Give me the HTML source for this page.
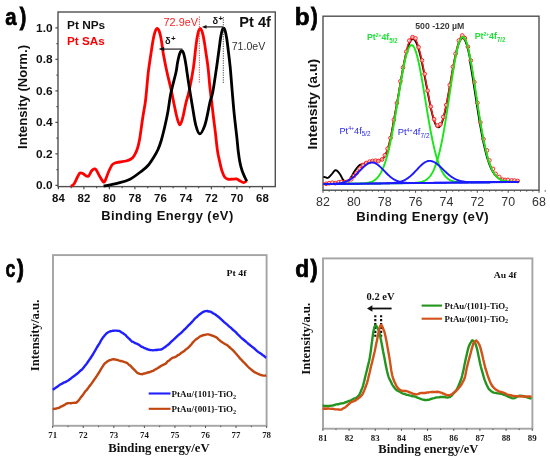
<!DOCTYPE html>
<html><head><meta charset="utf-8"><style>
html,body{margin:0;padding:0;background:#fff;width:550px;height:460px;overflow:hidden;}
svg{display:block;position:absolute;left:0;top:0;will-change:transform;}
</style></head><body>
<svg width="550" height="460" viewBox="0 0 550 460">
<rect x="58.0" y="12.0" width="217.3" height="174.6" fill="none" stroke="#505050" stroke-width="1.4"/>
<path d="M58.0,185.30h-2.6 M58.0,169.55h-1.6 M58.0,153.80h-2.6 M58.0,138.05h-1.6 M58.0,122.30h-2.6 M58.0,106.55h-1.6 M58.0,90.80h-2.6 M58.0,75.05h-1.6 M58.0,59.30h-2.6 M58.0,43.55h-1.6 M58.0,27.80h-2.6 M262.40,186.6v2.6 M249.65,186.6v1.6 M236.90,186.6v2.6 M224.15,186.6v1.6 M211.40,186.6v2.6 M198.65,186.6v1.6 M185.90,186.6v2.6 M173.15,186.6v1.6 M160.40,186.6v2.6 M147.65,186.6v1.6 M134.90,186.6v2.6 M122.15,186.6v1.6 M109.40,186.6v2.6 M96.65,186.6v1.6 M83.90,186.6v2.6 M71.15,186.6v1.6 M58.40,186.6v2.6" stroke="#505050" stroke-width="1.2" fill="none"/>
<text x="36.1" y="189.30" font-family="Liberation Sans, sans-serif" font-weight="bold" font-size="10.7" textLength="16.5" lengthAdjust="spacingAndGlyphs" fill="#111">0.0</text>
<text x="36.1" y="157.80" font-family="Liberation Sans, sans-serif" font-weight="bold" font-size="10.7" textLength="16.5" lengthAdjust="spacingAndGlyphs" fill="#111">0.2</text>
<text x="36.1" y="126.30" font-family="Liberation Sans, sans-serif" font-weight="bold" font-size="10.7" textLength="16.5" lengthAdjust="spacingAndGlyphs" fill="#111">0.4</text>
<text x="36.1" y="94.80" font-family="Liberation Sans, sans-serif" font-weight="bold" font-size="10.7" textLength="16.5" lengthAdjust="spacingAndGlyphs" fill="#111">0.6</text>
<text x="36.1" y="63.30" font-family="Liberation Sans, sans-serif" font-weight="bold" font-size="10.7" textLength="16.5" lengthAdjust="spacingAndGlyphs" fill="#111">0.8</text>
<text x="36.1" y="31.80" font-family="Liberation Sans, sans-serif" font-weight="bold" font-size="10.7" textLength="16.5" lengthAdjust="spacingAndGlyphs" fill="#111">1.0</text>
<text x="262.40" y="201.6" text-anchor="middle" font-family="Liberation Sans, sans-serif" font-weight="bold" font-size="11.4" fill="#111">68</text>
<text x="236.90" y="201.6" text-anchor="middle" font-family="Liberation Sans, sans-serif" font-weight="bold" font-size="11.4" fill="#111">70</text>
<text x="211.40" y="201.6" text-anchor="middle" font-family="Liberation Sans, sans-serif" font-weight="bold" font-size="11.4" fill="#111">72</text>
<text x="185.90" y="201.6" text-anchor="middle" font-family="Liberation Sans, sans-serif" font-weight="bold" font-size="11.4" fill="#111">74</text>
<text x="160.40" y="201.6" text-anchor="middle" font-family="Liberation Sans, sans-serif" font-weight="bold" font-size="11.4" fill="#111">76</text>
<text x="134.90" y="201.6" text-anchor="middle" font-family="Liberation Sans, sans-serif" font-weight="bold" font-size="11.4" fill="#111">78</text>
<text x="109.40" y="201.6" text-anchor="middle" font-family="Liberation Sans, sans-serif" font-weight="bold" font-size="11.4" fill="#111">80</text>
<text x="83.90" y="201.6" text-anchor="middle" font-family="Liberation Sans, sans-serif" font-weight="bold" font-size="11.4" fill="#111">82</text>
<text x="58.40" y="201.6" text-anchor="middle" font-family="Liberation Sans, sans-serif" font-weight="bold" font-size="11.4" fill="#111">84</text>
<text x="101.2" y="219.6" font-family="Liberation Sans, sans-serif" font-weight="bold" font-size="12.9" textLength="132" lengthAdjust="spacing" fill="#111">Binding Energy (eV)</text>
<text transform="translate(26.8,149) rotate(-90)" x="0" y="0" font-family="Liberation Sans, sans-serif" font-weight="bold" font-size="12.4" textLength="104" lengthAdjust="spacingAndGlyphs" fill="#111">Intensity (Norm.)</text>
<text transform="translate(5.3,24.5) scale(0.865,1)" font-family="Liberation Sans, sans-serif" font-weight="bold" font-size="23.5" fill="#000" stroke="#000" stroke-width="0.7">a</text><text transform="translate(19.8,24.7) scale(0.8,1)" font-family="Liberation Sans, sans-serif" font-weight="bold" font-size="24.5" fill="#000" stroke="#000" stroke-width="0.9">)</text>
<text x="67" y="28.6" font-family="Liberation Sans, sans-serif" font-weight="bold" font-size="11.2" textLength="38.2" lengthAdjust="spacingAndGlyphs" fill="#111">Pt NPs</text>
<text x="67" y="45" font-family="Liberation Sans, sans-serif" font-weight="bold" font-size="11.2" textLength="37.8" lengthAdjust="spacingAndGlyphs" fill="#ff0000">Pt SAs</text>
<text x="239.3" y="26.9" font-family="Liberation Sans, sans-serif" font-weight="bold" font-size="14.6" fill="#111">Pt 4f</text>
<path d="M71.00,186.40 C71.50,186.00 72.92,185.57 74.00,184.00 C75.08,182.43 76.50,178.83 77.50,177.00 C78.50,175.17 79.08,173.57 80.00,173.00 C80.92,172.43 81.67,173.03 83.00,173.60 C84.33,174.17 86.58,176.83 88.00,176.40 C89.42,175.97 90.50,172.23 91.50,171.00 C92.50,169.77 93.25,169.23 94.00,169.00 C94.75,168.77 95.08,168.43 96.00,169.60 C96.92,170.77 98.33,174.00 99.50,176.00 C100.67,178.00 102.08,180.77 103.00,181.60 C103.92,182.43 104.08,182.60 105.00,181.00 C105.92,179.40 107.33,174.67 108.50,172.00 C109.67,169.33 110.92,166.50 112.00,165.00 C113.08,163.50 113.67,163.50 115.00,163.00 C116.33,162.50 118.17,162.33 120.00,162.00 C121.83,161.67 124.17,161.50 126.00,161.00 C127.83,160.50 129.67,159.83 131.00,159.00 C132.33,158.17 132.97,157.62 134.00,156.00 C135.03,154.38 136.28,151.97 137.20,149.30 C138.12,146.63 138.87,143.22 139.50,140.00 C140.13,136.78 140.42,134.00 141.00,130.00 C141.58,126.00 142.23,121.00 143.00,116.00 C143.77,111.00 144.72,107.30 145.60,100.00 C146.48,92.70 147.43,79.73 148.30,72.20 C149.17,64.67 150.05,59.89 150.80,54.80 C151.55,49.71 152.22,45.08 152.80,41.69 C153.38,38.30 153.80,36.41 154.30,34.45 C154.80,32.49 155.30,30.94 155.80,29.94 C156.30,28.93 156.80,28.37 157.30,28.40 C157.80,28.43 158.30,28.98 158.80,30.09 C159.30,31.20 159.80,32.90 160.30,35.05 C160.80,37.19 161.27,39.67 161.80,42.96 C162.33,46.25 162.63,49.93 163.50,54.80 C164.37,59.67 165.72,66.33 167.00,72.20 C168.28,78.07 169.95,84.32 171.20,90.00 C172.45,95.68 173.50,101.58 174.50,106.30 C175.50,111.02 176.30,115.20 177.20,118.30 C178.10,121.40 179.00,124.90 179.90,124.90 C180.80,124.90 181.60,121.95 182.60,118.30 C183.60,114.65 184.82,107.55 185.90,103.00 C186.98,98.45 187.83,96.97 189.10,91.00 C190.37,85.03 192.42,74.27 193.50,67.20 C194.58,60.13 195.00,53.49 195.60,48.59 C196.20,43.68 196.60,40.72 197.10,37.77 C197.60,34.81 198.10,32.41 198.60,30.87 C199.10,29.33 199.60,28.60 200.10,28.50 C200.60,28.40 201.10,29.10 201.60,30.26 C202.10,31.41 202.60,33.18 203.10,35.41 C203.60,37.64 204.20,41.22 204.60,43.62 C205.00,46.02 204.93,45.87 205.50,49.80 C206.07,53.73 207.25,60.83 208.00,67.20 C208.75,73.57 209.38,82.20 210.00,88.00 C210.62,93.80 211.12,97.08 211.70,102.00 C212.28,106.92 212.90,112.52 213.50,117.50 C214.10,122.48 214.63,126.33 215.30,131.90 C215.97,137.47 216.77,145.93 217.50,150.90 C218.23,155.87 218.98,158.45 219.70,161.70 C220.42,164.95 220.98,167.85 221.80,170.40 C222.62,172.95 223.60,175.55 224.60,177.00 C225.60,178.45 226.57,178.73 227.80,179.10 C229.03,179.47 230.55,179.23 232.00,179.20 C233.45,179.17 235.20,178.63 236.50,178.90 C237.80,179.17 238.62,180.18 239.80,180.80 C240.98,181.42 242.43,182.60 243.60,182.60 C244.77,182.60 246.27,181.10 246.80,180.80" stroke="#ff0000" stroke-width="2.8" fill="none" stroke-linejoin="round"/>
<path d="M103.60,186.20 C106.00,185.70 113.60,184.37 118.00,183.20 C122.40,182.03 126.00,181.27 130.00,179.20 C134.00,177.13 139.00,173.08 142.00,170.80 C145.00,168.52 146.02,167.80 148.00,165.50 C149.98,163.20 152.23,159.67 153.90,157.00 C155.57,154.33 156.75,152.33 158.00,149.50 C159.25,146.67 160.20,144.12 161.40,140.00 C162.60,135.88 164.12,129.52 165.20,124.80 C166.28,120.08 166.95,117.00 167.90,111.70 C168.85,106.40 169.55,99.58 170.90,93.00 C172.25,86.42 174.93,77.02 176.00,72.20 C177.07,67.38 176.83,66.65 177.30,64.08 C177.77,61.51 178.30,58.75 178.80,56.77 C179.30,54.78 179.80,53.20 180.30,52.17 C180.80,51.14 181.30,50.54 181.80,50.60 C182.30,50.66 182.80,51.28 183.30,52.54 C183.80,53.81 184.30,55.78 184.80,58.20 C185.30,60.63 185.93,64.78 186.30,67.11 C186.67,69.44 186.43,68.38 187.00,72.20 C187.57,76.02 188.80,84.32 189.70,90.00 C190.60,95.68 191.40,100.50 192.40,106.30 C193.40,112.10 194.47,120.20 195.70,124.80 C196.93,129.40 198.32,133.72 199.80,133.90 C201.28,134.08 203.30,129.23 204.60,125.90 C205.90,122.57 206.70,117.88 207.60,113.90 C208.50,109.92 209.13,105.65 210.00,102.00 C210.87,98.35 211.70,97.80 212.80,92.00 C213.90,86.20 215.55,74.37 216.60,67.20 C217.65,60.03 218.43,53.86 219.10,48.96 C219.77,44.05 220.10,40.84 220.60,37.79 C221.10,34.74 221.60,32.25 222.10,30.65 C222.60,29.06 223.10,28.20 223.60,28.20 C224.10,28.20 224.60,29.06 225.10,30.65 C225.60,32.25 226.10,34.74 226.60,37.79 C227.10,40.84 227.50,44.05 228.10,48.96 C228.70,53.86 229.53,60.36 230.20,67.20 C230.87,74.04 231.43,82.22 232.10,90.00 C232.77,97.78 233.40,105.93 234.20,113.90 C235.00,121.87 236.23,131.63 236.90,137.80 C237.57,143.97 237.72,146.92 238.20,150.90 C238.68,154.88 239.17,158.45 239.80,161.70 C240.43,164.95 241.18,167.85 242.00,170.40 C242.82,172.95 243.90,175.20 244.70,177.00 C245.50,178.80 246.45,180.50 246.80,181.20" stroke="#000" stroke-width="2.8" fill="none" stroke-linejoin="round"/>
<path d="M199.4,16.5V83.2" stroke="#ff2020" stroke-width="0.9" stroke-dasharray="1.2,1.2" fill="none"/>
<path d="M223.3,17V83" stroke="#333" stroke-width="0.9" stroke-dasharray="1.2,1.2" fill="none"/>
<path d="M182.4,49.1H160.5" stroke="#333" stroke-width="1.3"/><path d="M158.6,49.1l5.6,-2v4z" fill="#111"/>
<path d="M223,26.9H204.2" stroke="#333" stroke-width="1.3"/><path d="M201.9,26.9l4.6,-1.8v3.6z" fill="#111"/>
<text x="165.1" y="44.1" font-family="Liberation Sans, sans-serif" font-weight="bold" font-size="9.2" fill="#111">δ</text><text x="170.9" y="41.3" font-family="Liberation Sans, sans-serif" font-weight="bold" font-size="8" fill="#111">+</text>
<text x="212.4" y="23.9" font-family="Liberation Sans, sans-serif" font-weight="bold" font-size="9.2" fill="#111">δ</text><text x="218.4" y="20.6" font-family="Liberation Sans, sans-serif" font-weight="bold" font-size="7.6" fill="#111">+</text>
<text x="163.5" y="25.5" font-family="Liberation Sans, sans-serif" font-size="11" textLength="34.5" lengthAdjust="spacingAndGlyphs" fill="#ff2020">72.9eV</text>
<text x="231.7" y="50" font-family="Liberation Sans, sans-serif" font-size="11" textLength="33.6" lengthAdjust="spacingAndGlyphs" fill="#333">71.0eV</text>
<rect x="323.0" y="16.2" width="216.0" height="174.0" fill="none" stroke="#505050" stroke-width="1.4"/>
<path d="M323.00,190.2v2.6 M329.17,190.2v1.5 M335.34,190.2v1.5 M341.52,190.2v1.5 M347.69,190.2v1.5 M353.86,190.2v2.6 M360.03,190.2v1.5 M366.20,190.2v1.5 M372.38,190.2v1.5 M378.55,190.2v1.5 M384.72,190.2v2.6 M390.89,190.2v1.5 M397.06,190.2v1.5 M403.24,190.2v1.5 M409.41,190.2v1.5 M415.58,190.2v2.6 M421.75,190.2v1.5 M427.92,190.2v1.5 M434.10,190.2v1.5 M440.27,190.2v1.5 M446.44,190.2v2.6 M452.61,190.2v1.5 M458.78,190.2v1.5 M464.96,190.2v1.5 M471.13,190.2v1.5 M477.30,190.2v2.6 M483.47,190.2v1.5 M489.64,190.2v1.5 M495.82,190.2v1.5 M501.99,190.2v1.5 M508.16,190.2v2.6 M514.33,190.2v1.5 M520.50,190.2v1.5 M526.68,190.2v1.5 M532.85,190.2v1.5 M539.02,190.2v2.6 M545.19,190.2v1.5 M551.36,190.2v1.5 M557.54,190.2v1.5 M563.71,190.2v1.5 M569.88,190.2v2.6 M576.05,190.2v1.5 M582.22,190.2v1.5 M588.40,190.2v1.5 M594.57,190.2v1.5 M600.74,190.2v2.6 M606.91,190.2v1.5 M613.08,190.2v1.5 M619.26,190.2v1.5 M625.43,190.2v1.5 M631.60,190.2v2.6 M637.77,190.2v1.5 M643.94,190.2v1.5 M650.12,190.2v1.5 M656.29,190.2v1.5 M662.46,190.2v2.6 M668.63,190.2v1.5 M674.80,190.2v1.5 M680.98,190.2v1.5 M687.15,190.2v1.5 M693.32,190.2v2.6 M699.49,190.2v1.5 M705.66,190.2v1.5 M711.84,190.2v1.5 M718.01,190.2v1.5 M724.18,190.2v2.6 M730.35,190.2v1.5 M736.52,190.2v1.5 M742.70,190.2v1.5 M748.87,190.2v1.5 M755.04,190.2v2.6" stroke="#505050" stroke-width="1" fill="none"/>
<text x="539.02" y="205.8" text-anchor="middle" font-family="Liberation Sans, sans-serif" font-size="12.4" fill="#333">68</text>
<text x="508.16" y="205.8" text-anchor="middle" font-family="Liberation Sans, sans-serif" font-size="12.4" fill="#333">70</text>
<text x="477.30" y="205.8" text-anchor="middle" font-family="Liberation Sans, sans-serif" font-size="12.4" fill="#333">72</text>
<text x="446.44" y="205.8" text-anchor="middle" font-family="Liberation Sans, sans-serif" font-size="12.4" fill="#333">74</text>
<text x="415.58" y="205.8" text-anchor="middle" font-family="Liberation Sans, sans-serif" font-size="12.4" fill="#333">76</text>
<text x="384.72" y="205.8" text-anchor="middle" font-family="Liberation Sans, sans-serif" font-size="12.4" fill="#333">78</text>
<text x="353.86" y="205.8" text-anchor="middle" font-family="Liberation Sans, sans-serif" font-size="12.4" fill="#333">80</text>
<text x="323.00" y="205.8" text-anchor="middle" font-family="Liberation Sans, sans-serif" font-size="12.4" fill="#333">82</text>
<text x="356.2" y="220.7" font-family="Liberation Sans, sans-serif" font-weight="bold" font-size="13.1" textLength="132.5" lengthAdjust="spacing" fill="#111">Binding Energy (eV)</text>
<text transform="translate(317.2,149.6) rotate(-90)" x="0" y="0" font-family="Liberation Sans, sans-serif" font-weight="bold" font-size="12.6" textLength="90.7" lengthAdjust="spacingAndGlyphs" fill="#111">Intensity (a.u)</text>
<text transform="translate(294.8,25.1)" font-family="Liberation Sans, sans-serif" font-weight="bold" font-size="24.3" fill="#000" stroke="#000" stroke-width="0.7">b</text><text transform="translate(310.9,24.8) scale(0.82,1)" font-family="Liberation Sans, sans-serif" font-weight="bold" font-size="24.5" fill="#000" stroke="#000" stroke-width="0.9">)</text>
<text x="415.2" y="29.1" font-family="Liberation Sans, sans-serif" font-size="9.4" font-weight="bold" textLength="49.2" lengthAdjust="spacingAndGlyphs" fill="#3a3a3a">500 -120 µM</text>
<path d="M323.40,176.70 L323.62,176.77 L323.93,176.86 L324.29,176.97 L324.69,177.09 L325.10,177.20 L325.50,177.30 L325.88,177.43 L326.27,177.61 L326.66,177.79 L327.08,177.92 L327.52,177.94 L328.00,177.80 L328.52,177.48 L329.07,177.02 L329.66,176.45 L330.26,175.81 L330.88,175.15 L331.50,174.50 L332.14,173.75 L332.80,172.86 L333.47,171.94 L334.15,171.11 L334.83,170.49 L335.50,170.20 L336.17,170.27 L336.83,170.60 L337.49,171.14 L338.16,171.84 L338.83,172.65 L339.50,173.50 L340.19,174.52 L340.90,175.78 L341.62,177.14 L342.32,178.47 L342.98,179.63 L343.60,180.50 L344.16,181.05 L344.67,181.40 L345.15,181.58 L345.61,181.64 L346.05,181.63 L346.50,181.60 L346.94,181.54 L347.36,181.40 L347.77,181.20 L348.18,180.93 L348.59,180.60 L349.00,180.20 L349.41,179.74 L349.80,179.22 L350.19,178.64 L350.59,177.99 L351.03,177.28 L351.50,176.50 L352.02,175.62 L352.56,174.64 L353.13,173.59 L353.73,172.53 L354.35,171.48 L355.00,170.50 L355.69,169.54 L356.44,168.56 L357.21,167.59 L357.98,166.70 L358.72,165.92 L359.40,165.30 L360.01,164.88 L360.58,164.63 L361.12,164.49 L361.64,164.41 L362.16,164.33 L362.70,164.20 L363.26,164.02 L363.83,163.84 L364.40,163.67 L364.96,163.50 L365.50,163.34 L366.00,163.20 L366.49,163.07 L366.99,162.95 L367.46,162.84 L367.88,162.74 L368.24,162.66 L368.50,162.60 L369.50,161.96 L370.00,161.82 L370.50,161.69 L371.00,161.58 L371.50,161.48 L372.00,161.39 L372.50,161.31 L373.00,161.24 L373.50,161.18 L374.00,161.13 L374.50,161.10 L375.00,161.08 L375.50,161.06 L376.00,161.03 L376.50,161.00 L377.00,160.94 L377.50,160.88 L378.00,160.83 L378.50,160.77 L379.00,160.69 L379.50,160.59 L380.00,160.45 L380.50,160.25 L381.00,160.02 L381.50,159.75 L382.00,159.44 L382.50,159.05 L383.00,158.57 L383.50,157.99 L384.00,157.30 L384.50,156.53 L385.00,155.67 L385.50,154.71 L386.00,153.65 L386.50,152.47 L387.00,151.17 L387.50,149.76 L388.00,148.25 L388.50,146.61 L389.00,144.82 L389.50,142.88 L390.00,140.81 L390.50,138.59 L391.00,136.20 L391.50,133.64 L392.00,130.97 L392.50,128.19 L393.00,125.35 L393.50,122.53 L394.00,119.76 L394.50,117.05 L395.00,114.38 L395.50,111.73 L396.00,109.04 L396.50,106.31 L397.00,103.53 L397.50,100.68 L398.00,97.77 L398.50,94.82 L399.00,91.86 L399.50,88.90 L400.00,85.94 L400.50,83.00 L401.00,80.09 L401.50,77.20 L402.00,74.36 L402.50,71.58 L403.00,68.85 L403.50,66.20 L404.00,63.62 L404.50,61.14 L405.00,58.75 L405.50,56.47 L406.00,54.30 L406.50,52.25 L407.00,50.33 L407.50,48.54 L408.00,46.90 L408.50,45.40 L409.00,44.05 L409.50,42.85 L410.00,41.81 L410.50,40.93 L411.00,40.21 L411.50,39.66 L412.00,39.27 L412.50,39.04 L413.00,38.98 L413.50,39.09 L414.00,39.36 L414.50,39.79 L415.00,40.38 L415.50,41.12 L416.00,42.02 L416.50,43.06 L417.00,44.25 L417.50,45.58 L418.00,47.04 L418.50,48.63 L419.00,50.35 L419.50,52.18 L420.00,54.12 L420.50,56.16 L421.00,58.30 L421.50,60.52 L422.00,62.83 L422.50,65.21 L423.00,67.66 L423.50,70.17 L424.00,72.72 L424.50,75.32 L425.00,77.95 L425.50,80.60 L426.00,83.27 L426.50,85.94 L427.00,88.62 L427.50,91.28 L428.00,93.93 L428.50,96.54 L429.00,99.11 L429.50,101.64 L430.00,104.10 L430.50,106.49 L431.00,108.79 L431.50,111.01 L432.00,113.11 L432.50,115.11 L433.00,116.98 L433.50,118.72 L434.00,120.32 L434.50,121.78 L435.00,123.07 L435.50,124.20 L436.00,125.16 L436.50,125.95 L437.00,126.55 L437.50,126.97 L438.00,127.20 L438.50,127.24 L439.00,127.09 L439.50,126.75 L440.00,126.23 L440.50,125.52 L441.00,124.62 L441.50,123.55 L442.00,122.30 L442.50,120.89 L443.00,119.31 L443.50,117.59 L444.00,115.71 L444.50,113.71 L445.00,111.57 L445.50,109.32 L446.00,106.95 L446.50,104.49 L447.00,101.94 L447.50,99.32 L448.00,96.63 L448.50,93.88 L449.00,91.09 L449.50,88.26 L450.00,85.41 L450.50,82.55 L451.00,79.69 L451.50,76.84 L452.00,74.01 L452.50,71.22 L453.00,68.46 L453.50,65.77 L454.00,63.14 L454.50,60.59 L455.00,58.13 L455.50,55.76 L456.00,53.51 L456.50,51.37 L457.00,49.37 L457.50,47.50 L458.00,45.78 L458.50,44.21 L459.00,42.80 L459.50,41.56 L460.00,40.50 L460.50,39.62 L461.00,38.93 L461.50,38.42 L462.00,38.11 L462.50,37.99 L463.00,38.07 L463.50,38.35 L464.00,38.82 L464.50,39.49 L465.00,40.35 L465.50,41.41 L466.00,42.64 L466.50,44.07 L467.00,45.66 L467.50,47.43 L468.00,49.36 L468.50,51.45 L469.00,53.69 L469.50,56.07 L470.00,58.57 L469.90,61.20 L470.40,63.94 L470.90,66.78 L471.40,69.71 L471.90,72.72 L472.40,75.81 L472.90,78.95 L473.40,82.14 L473.90,85.36 L474.40,88.62 L474.90,91.89 L475.40,95.18 L475.90,98.46 L476.40,101.72 L476.90,104.97 L477.40,108.20 L477.90,111.38 L478.40,114.53 L478.90,117.62 L479.40,120.66 L479.90,123.63 L480.40,126.54 L480.90,129.37 L481.40,132.13 L481.90,134.81 L482.40,137.40 L482.90,139.91 L483.40,142.33 L483.90,144.66 L484.40,146.90 L484.90,149.05 L485.40,151.10 L485.90,153.07 L486.40,154.94 L486.90,156.73 L487.40,158.42 L487.90,160.03 L488.40,161.55 L488.90,162.99 L489.40,164.34 L489.90,165.62 L490.40,166.82 L490.90,167.94 L491.40,169.00 L491.90,169.98 L492.40,170.90 L492.90,171.76 L493.40,172.55 L493.90,173.29 L494.40,173.98 L494.90,174.61 L495.40,175.20 L495.90,175.74 L496.40,176.24 L496.90,176.69 L497.40,177.11 L497.90,177.49 L498.40,177.84 L498.90,178.16 L499.40,178.45 L499.90,178.72 L500.40,178.96 L500.90,179.17 L501.40,179.37 L501.90,179.55 L502.40,179.70 L502.90,179.85 L503.40,179.97 L503.90,180.09 L504.40,180.19 L504.90,180.28 L505.40,180.36 L505.90,180.43" stroke="#000" stroke-width="1.9" fill="none" stroke-linejoin="round"/>
<path d="M323.50,183.30 L324.00,183.29 L324.50,183.29 L325.00,183.28 L325.50,183.28 L326.00,183.27 L326.50,183.27 L327.00,183.26 L327.50,183.26 L328.00,183.25 L328.50,183.24 L329.00,183.23 L329.50,183.22 L330.00,183.20 L330.50,183.18 L331.00,183.17 L331.50,183.15 L332.00,183.13 L332.50,183.11 L333.00,183.10 L333.50,183.08 L334.00,183.05 L334.50,183.03 L335.00,183.01 L335.50,182.98 L336.00,182.95 L336.50,182.92 L337.00,182.88 L337.50,182.84 L338.00,182.80 L338.50,182.75 L339.00,182.70 L339.50,182.64 L340.00,182.59 L340.50,182.52 L341.00,182.46 L341.50,182.39 L342.00,182.32 L342.50,182.24 L343.00,182.17 L343.50,182.08 L344.00,181.99 L344.50,181.90 L345.00,181.80 L345.50,181.69 L346.00,181.58 L346.50,181.47 L347.00,181.33 L347.50,181.17 L348.00,180.98 L348.50,180.75 L349.00,180.50 L349.50,180.22 L350.00,179.91 L350.50,179.59 L351.00,179.23 L351.50,178.84 L352.00,178.43 L352.50,177.98 L353.00,177.50 L353.50,176.97 L354.00,176.39 L354.50,175.77 L355.00,175.12 L355.50,174.46 L356.00,173.80 L356.50,173.14 L357.00,172.50 L357.50,171.87 L358.00,171.22 L358.50,170.57 L359.00,169.92 L359.50,169.28 L360.00,168.66 L360.50,168.06 L361.00,167.50 L361.50,166.96 L362.00,166.45 L362.50,165.94 L363.00,165.46 L363.50,165.01 L364.00,164.58 L364.50,164.17 L365.00,163.80 L365.50,163.46 L366.00,163.16 L366.50,162.88 L367.00,162.62 L367.50,162.40 L368.00,162.18 L368.50,161.99 L369.00,161.80 L369.50,161.63 L370.00,161.49 L370.50,161.36 L371.00,161.24 L371.50,161.15 L372.00,161.06 L372.50,160.98 L373.00,160.90 L373.50,160.84 L374.00,160.79 L374.50,160.76 L375.00,160.74 L375.50,160.72 L376.00,160.69 L376.50,160.65 L377.00,160.60 L377.50,160.54 L378.00,160.48 L378.50,160.42 L379.00,160.34 L379.50,160.24 L380.00,160.09 L380.50,159.90 L381.00,159.66 L381.50,159.39 L382.00,159.08 L382.50,158.68 L383.00,158.19 L383.50,157.60 L384.00,156.90 L384.50,156.12 L385.00,155.25 L385.50,154.27 L386.00,153.19 L386.50,152.00 L387.00,150.68 L387.50,149.25 L388.00,147.72 L388.50,146.05 L389.00,144.23 L389.50,142.27 L390.00,140.16 L390.50,137.91 L391.00,135.48 L391.50,132.89 L392.00,130.18 L392.50,127.35 L393.00,124.47 L393.50,121.61 L394.00,118.80 L394.50,116.04 L395.00,113.34 L395.50,110.64 L396.00,107.91 L396.50,105.14 L397.00,102.31 L397.50,99.42 L398.00,96.47 L398.50,93.48 L399.00,90.47 L399.50,87.46 L400.00,84.46 L400.50,81.48 L401.00,78.52 L401.50,75.59 L402.00,72.71 L402.50,69.88 L403.00,67.11 L403.50,64.41 L404.00,61.80 L404.50,59.28 L405.00,56.85 L405.50,54.54 L406.00,52.34 L406.50,50.26 L407.00,48.31 L407.50,46.50 L408.00,44.82 L408.50,43.30 L409.00,41.93 L409.50,40.71 L410.00,39.66 L410.50,38.76 L411.00,38.03 L411.50,37.47 L412.00,37.08 L412.50,36.85 L413.00,36.79 L413.50,36.90 L414.00,37.17 L414.50,37.61 L415.00,38.21 L415.50,38.96 L416.00,39.87 L416.50,40.93 L417.00,42.14 L417.50,43.49 L418.00,44.97 L418.50,46.59 L419.00,48.33 L419.50,50.19 L420.00,52.15 L420.50,54.23 L421.00,56.40 L421.50,58.66 L422.00,61.00 L422.50,63.42 L423.00,65.90 L423.50,68.45 L424.00,71.04 L424.50,73.68 L425.00,76.35 L425.50,79.04 L426.00,81.75 L426.50,84.47 L427.00,87.18 L427.50,89.89 L428.00,92.57 L428.50,95.22 L429.00,97.84 L429.50,100.40 L430.00,102.90 L430.50,105.32 L431.00,107.67 L431.50,109.91 L432.00,112.05 L432.50,114.08 L433.00,115.98 L433.50,117.75 L434.00,119.37 L434.50,120.85 L435.00,122.16 L435.50,123.31 L436.00,124.28 L436.50,125.08 L437.00,125.69 L437.50,126.12 L438.00,126.35 L438.50,126.39 L439.00,126.24 L439.50,125.90 L440.00,125.37 L440.50,124.64 L441.00,123.74 L441.50,122.65 L442.00,121.38 L442.50,119.95 L443.00,118.35 L443.50,116.59 L444.00,114.69 L444.50,112.65 L445.00,110.49 L445.50,108.20 L446.00,105.80 L446.50,103.30 L447.00,100.72 L447.50,98.05 L448.00,95.32 L448.50,92.53 L449.00,89.69 L449.50,86.82 L450.00,83.93 L450.50,81.03 L451.00,78.12 L451.50,75.23 L452.00,72.36 L452.50,69.52 L453.00,66.73 L453.50,63.99 L454.00,61.32 L454.50,58.73 L455.00,56.23 L455.50,53.83 L456.00,51.54 L456.50,49.38 L457.00,47.34 L457.50,45.44 L458.00,43.69 L458.50,42.10 L459.00,40.67 L459.50,39.42 L460.00,38.34 L460.50,37.45 L461.00,36.74 L461.50,36.23 L462.00,35.91 L462.50,35.79 L463.00,35.87 L463.50,36.15 L464.00,36.63 L464.50,37.31 L465.00,38.19 L465.50,39.26 L466.00,40.52 L466.50,41.96 L467.00,43.58 L467.50,45.38 L468.00,47.34 L468.50,49.46 L469.00,51.73 L469.50,54.14 L470.00,56.69 L470.50,59.36 L471.00,62.14 L471.50,65.02 L472.00,68.00 L472.50,71.05 L473.00,74.18 L473.50,77.37 L474.00,80.61 L474.50,83.89 L475.00,87.19 L475.50,90.52 L476.00,93.85 L476.50,97.18 L477.00,100.50 L477.50,103.80 L478.00,107.07 L478.50,110.30 L479.00,113.49 L479.50,116.63 L480.00,119.72 L480.50,122.74 L481.00,125.69 L481.50,128.56 L482.00,131.36 L482.50,134.08 L483.00,136.72 L483.50,139.26 L484.00,141.72 L484.50,144.09 L485.00,146.36 L485.50,148.54 L486.00,150.63 L486.50,152.62 L487.00,154.53 L487.50,156.34 L488.00,158.06 L488.50,159.69 L489.00,161.23 L489.50,162.69 L490.00,164.07 L490.50,165.37 L491.00,166.58 L491.50,167.73 L492.00,168.80 L492.50,169.80 L493.00,170.73 L493.50,171.60 L494.00,172.41 L494.50,173.16 L495.00,173.86 L495.50,174.50 L496.00,175.09 L496.50,175.64 L497.00,176.15 L497.50,176.61 L498.00,177.03 L498.50,177.42 L499.00,177.78 L499.50,178.10 L500.00,178.40 L500.50,178.67 L501.00,178.91 L501.50,179.13 L502.00,179.33 L502.50,179.51 L503.00,179.67 L503.50,179.81 L504.00,179.94 L504.50,180.06 L505.00,180.16 L505.50,180.26 L506.00,180.34 L506.50,180.41 L507.00,180.47 L507.50,180.53 L508.00,180.58 L508.50,180.62 L509.00,180.66 L509.50,180.69 L510.00,180.72 L510.50,180.75 L511.00,180.77 L511.50,180.78 L512.00,180.80 L512.50,180.81 L513.00,180.82 L513.50,180.83 L514.00,180.83 L514.50,180.84 L515.00,180.84 L515.50,180.84 L516.00,180.84 L516.50,180.84 L517.00,180.84 L517.50,180.84 L518.00,180.84 L518.50,180.84" stroke="#ff1a1a" stroke-width="1.4" fill="none"/>
<g fill="#fff" fill-opacity="0.6" stroke="#ff2020" stroke-width="1.0"><circle cx="326.13" cy="183.78" r="1.85"/><circle cx="329.14" cy="183.23" r="1.85"/><circle cx="332.33" cy="182.74" r="1.85"/><circle cx="335.35" cy="183.14" r="1.85"/><circle cx="338.66" cy="182.25" r="1.85"/><circle cx="341.36" cy="181.92" r="1.85"/><circle cx="344.85" cy="182.06" r="1.85"/><circle cx="347.32" cy="181.81" r="1.85"/><circle cx="351.15" cy="179.30" r="1.85"/><circle cx="353.95" cy="176.03" r="1.85"/><circle cx="356.56" cy="173.10" r="1.85"/><circle cx="359.68" cy="168.69" r="1.85"/><circle cx="362.91" cy="164.98" r="1.85"/><circle cx="366.18" cy="162.99" r="1.85"/><circle cx="369.56" cy="161.64" r="1.85"/><circle cx="372.49" cy="160.98" r="1.85"/><circle cx="375.59" cy="160.66" r="1.85"/><circle cx="378.37" cy="161.03" r="1.85"/><circle cx="382.03" cy="159.46" r="1.85"/><circle cx="384.89" cy="155.23" r="1.85"/><circle cx="387.59" cy="148.72" r="1.85"/><circle cx="390.55" cy="137.99" r="1.85"/><circle cx="393.90" cy="119.78" r="1.85"/><circle cx="396.97" cy="103.01" r="1.85"/><circle cx="400.43" cy="81.31" r="1.85"/><circle cx="403.00" cy="67.58" r="1.85"/><circle cx="406.30" cy="51.67" r="1.85"/><circle cx="409.33" cy="40.62" r="1.85"/><circle cx="412.60" cy="37.17" r="1.85"/><circle cx="415.40" cy="38.31" r="1.85"/><circle cx="418.53" cy="47.26" r="1.85"/><circle cx="421.96" cy="60.35" r="1.85"/><circle cx="424.64" cy="73.92" r="1.85"/><circle cx="427.57" cy="90.63" r="1.85"/><circle cx="430.75" cy="106.58" r="1.85"/><circle cx="434.05" cy="119.16" r="1.85"/><circle cx="437.37" cy="125.56" r="1.85"/><circle cx="440.38" cy="124.35" r="1.85"/><circle cx="443.29" cy="116.98" r="1.85"/><circle cx="446.26" cy="105.09" r="1.85"/><circle cx="449.77" cy="85.03" r="1.85"/><circle cx="452.92" cy="66.83" r="1.85"/><circle cx="455.61" cy="53.74" r="1.85"/><circle cx="458.90" cy="40.49" r="1.85"/><circle cx="462.26" cy="35.51" r="1.85"/><circle cx="464.76" cy="38.10" r="1.85"/><circle cx="467.91" cy="46.72" r="1.85"/><circle cx="470.79" cy="60.46" r="1.85"/><circle cx="474.28" cy="82.14" r="1.85"/><circle cx="477.38" cy="102.86" r="1.85"/><circle cx="480.35" cy="122.37" r="1.85"/><circle cx="483.46" cy="139.14" r="1.85"/><circle cx="486.85" cy="150.45" r="1.85"/><circle cx="489.37" cy="160.39" r="1.85"/><circle cx="492.98" cy="168.86" r="1.85"/><circle cx="495.57" cy="173.82" r="1.85"/><circle cx="499.25" cy="177.02" r="1.85"/><circle cx="502.35" cy="179.61" r="1.85"/><circle cx="505.16" cy="179.93" r="1.85"/><circle cx="507.84" cy="179.93" r="1.85"/><circle cx="511.62" cy="180.44" r="1.85"/><circle cx="514.50" cy="180.54" r="1.85"/><circle cx="517.68" cy="180.96" r="1.85"/></g>
<path d="M323.50,184.09 L324.00,184.09 L324.50,184.08 L325.00,184.08 L325.50,184.07 L326.00,184.07 L326.50,184.06 L327.00,184.05 L327.50,184.05 L328.00,184.04 L328.50,184.04 L329.00,184.03 L329.50,184.03 L330.00,184.02 L330.50,184.01 L331.00,184.01 L331.50,184.00 L332.00,184.00 L332.50,183.99 L333.00,183.98 L333.50,183.98 L334.00,183.97 L334.50,183.97 L335.00,183.96 L335.50,183.96 L336.00,183.95 L336.50,183.94 L337.00,183.94 L337.50,183.93 L338.00,183.93 L338.50,183.92 L339.00,183.92 L339.50,183.91 L340.00,183.90 L340.50,183.90 L341.00,183.89 L341.50,183.89 L342.00,183.88 L342.50,183.88 L343.00,183.87 L343.50,183.86 L344.00,183.86 L344.50,183.85 L345.00,183.85 L345.50,183.84 L346.00,183.83 L346.50,183.83 L347.00,183.82 L347.50,183.82 L348.00,183.81 L348.50,183.80 L349.00,183.80 L349.50,183.79 L350.00,183.78 L350.50,183.78 L351.00,183.77 L351.50,183.76 L352.00,183.76 L352.50,183.75 L353.00,183.74 L353.50,183.73 L354.00,183.73 L354.50,183.72 L355.00,183.71 L355.50,183.70 L356.00,183.69 L356.50,183.68 L357.00,183.67 L357.50,183.65 L358.00,183.64 L358.50,183.62 L359.00,183.61 L359.50,183.59 L360.00,183.57 L360.50,183.55 L361.00,183.53 L361.50,183.50 L362.00,183.47 L362.50,183.44 L363.00,183.41 L363.50,183.37 L364.00,183.33 L364.50,183.28 L365.00,183.23 L365.50,183.17 L366.00,183.11 L366.50,183.03 L367.00,182.96 L367.50,182.87 L368.00,182.77 L368.50,182.67 L369.00,182.55 L369.50,182.42 L370.00,182.28 L370.50,182.12 L371.00,181.95 L371.50,181.76 L372.00,181.55 L372.50,181.32 L373.00,181.07 L373.50,180.79 L374.00,180.49 L374.50,180.17 L375.00,179.81 L375.50,179.42 L376.00,179.00 L376.50,178.55 L377.00,178.05 L377.50,177.52 L378.00,176.94 L378.50,176.32 L379.00,175.65 L379.50,174.94 L380.00,174.16 L380.50,173.34 L381.00,172.45 L381.50,171.51 L382.00,170.50 L382.50,169.43 L383.00,168.29 L383.50,167.08 L384.00,165.80 L384.50,164.44 L385.00,163.01 L385.50,161.50 L386.00,159.91 L386.50,158.24 L387.00,156.49 L387.50,154.65 L388.00,152.73 L388.50,150.73 L389.00,148.65 L389.50,146.48 L390.00,144.23 L390.50,141.91 L391.00,139.50 L391.50,137.01 L392.00,134.46 L392.50,131.83 L393.00,129.13 L393.50,126.37 L394.00,123.55 L394.50,120.68 L395.00,117.75 L395.50,114.79 L396.00,111.78 L396.50,108.75 L397.00,105.69 L397.50,102.62 L398.00,99.54 L398.50,96.45 L399.00,93.38 L399.50,90.33 L400.00,87.30 L400.50,84.30 L401.00,81.35 L401.50,78.46 L402.00,75.62 L402.50,72.86 L403.00,70.19 L403.50,67.60 L404.00,65.12 L404.50,62.74 L405.00,60.49 L405.50,58.36 L406.00,56.36 L406.50,54.51 L407.00,52.81 L407.50,51.26 L408.00,49.87 L408.50,48.66 L409.00,47.61 L409.50,46.74 L410.00,46.05 L410.50,45.54 L411.00,45.22 L411.50,45.09 L412.00,45.14 L412.50,45.37 L413.00,45.79 L413.50,46.40 L414.00,47.19 L414.50,48.15 L415.00,49.29 L415.50,50.60 L416.00,52.07 L416.50,53.70 L417.00,55.48 L417.50,57.41 L418.00,59.47 L418.50,61.67 L419.00,63.98 L419.50,66.41 L420.00,68.95 L420.50,71.58 L421.00,74.29 L421.50,77.09 L422.00,79.95 L422.50,82.87 L423.00,85.83 L423.50,88.84 L424.00,91.87 L424.50,94.93 L425.00,97.99 L425.50,101.07 L426.00,104.13 L426.50,107.19 L427.00,110.22 L427.50,113.22 L428.00,116.19 L428.50,119.12 L429.00,122.01 L429.50,124.84 L430.00,127.61 L430.50,130.32 L431.00,132.97 L431.50,135.54 L432.00,138.04 L432.50,140.47 L433.00,142.82 L433.50,145.09 L434.00,147.28 L434.50,149.38 L435.00,151.40 L435.50,153.34 L436.00,155.20 L436.50,156.97 L437.00,158.67 L437.50,160.28 L438.00,161.81 L438.50,163.26 L439.00,164.63 L439.50,165.93 L440.00,167.16 L440.50,168.32 L441.00,169.40 L441.50,170.43 L442.00,171.38 L442.50,172.28 L443.00,173.12 L443.50,173.90 L444.00,174.63 L444.50,175.30 L445.00,175.93 L445.50,176.52 L446.00,177.05 L446.50,177.55 L447.00,178.01 L447.50,178.43 L448.00,178.82 L448.50,179.18 L449.00,179.51 L449.50,179.80 L450.00,180.08 L450.50,180.33 L451.00,180.55 L451.50,180.76 L452.00,180.94 L452.50,181.11 L453.00,181.26 L453.50,181.40 L454.00,181.52 L454.50,181.63 L455.00,181.73 L455.50,181.82 L456.00,181.90 L456.50,181.97 L457.00,182.03 L457.50,182.09 L458.00,182.14 L458.50,182.18 L459.00,182.22 L459.50,182.25 L460.00,182.28 L460.50,182.30 L461.00,182.32 L461.50,182.34 L462.00,182.36 L462.50,182.37 L463.00,182.38 L463.50,182.39 L464.00,182.40 L464.50,182.40 L465.00,182.41 L465.50,182.41 L466.00,182.41 L466.50,182.41 L467.00,182.41 L467.50,182.41 L468.00,182.41 L468.50,182.40 L469.00,182.40 L469.50,182.40 L470.00,182.40 L470.50,182.39 L471.00,182.39 L471.50,182.38 L472.00,182.38 L472.50,182.37 L473.00,182.37 L473.50,182.36 L474.00,182.36 L474.50,182.35 L475.00,182.35 L475.50,182.34 L476.00,182.34 L476.50,182.33 L477.00,182.33 L477.50,182.32 L478.00,182.32 L478.50,182.31 L479.00,182.31 L479.50,182.30 L480.00,182.29 L480.50,182.29 L481.00,182.28 L481.50,182.28 L482.00,182.27 L482.50,182.27 L483.00,182.26 L483.50,182.25 L484.00,182.25 L484.50,182.24 L485.00,182.24 L485.50,182.23 L486.00,182.23 L486.50,182.22 L487.00,182.21 L487.50,182.21 L488.00,182.20 L488.50,182.20 L489.00,182.19 L489.50,182.19 L490.00,182.18 L490.50,182.17 L491.00,182.17 L491.50,182.16 L492.00,182.16 L492.50,182.15 L493.00,182.14 L493.50,182.14 L494.00,182.13 L494.50,182.13 L495.00,182.12 L495.50,182.12 L496.00,182.11 L496.50,182.10 L497.00,182.10 L497.50,182.09 L498.00,182.09 L498.50,182.08 L499.00,182.08 L499.50,182.07 L500.00,182.06 L500.50,182.06 L501.00,182.05 L501.50,182.05 L502.00,182.04 L502.50,182.04 L503.00,182.03 L503.50,182.02 L504.00,182.02 L504.50,182.01 L505.00,182.01 L505.50,182.00 L506.00,182.00 L506.50,181.99 L507.00,181.98 L507.50,181.98 L508.00,181.97 L508.50,181.97 L509.00,181.96 L509.50,181.96 L510.00,181.95 L510.50,181.94 L511.00,181.94 L511.50,181.93 L512.00,181.93 L512.50,181.92 L513.00,181.91 L513.50,181.91 L514.00,181.90 L514.50,181.90 L515.00,181.89 L515.50,181.89 L516.00,181.88 L516.50,181.87 L517.00,181.87 L517.50,181.86 L518.00,181.86 L518.50,181.85" stroke="#19e619" stroke-width="1.9" fill="none"/>
<path d="M323.50,184.09 L324.00,184.09 L324.50,184.08 L325.00,184.08 L325.50,184.07 L326.00,184.07 L326.50,184.06 L327.00,184.05 L327.50,184.05 L328.00,184.04 L328.50,184.04 L329.00,184.03 L329.50,184.03 L330.00,184.02 L330.50,184.01 L331.00,184.01 L331.50,184.00 L332.00,184.00 L332.50,183.99 L333.00,183.98 L333.50,183.98 L334.00,183.97 L334.50,183.97 L335.00,183.96 L335.50,183.96 L336.00,183.95 L336.50,183.94 L337.00,183.94 L337.50,183.93 L338.00,183.93 L338.50,183.92 L339.00,183.92 L339.50,183.91 L340.00,183.90 L340.50,183.90 L341.00,183.89 L341.50,183.89 L342.00,183.88 L342.50,183.88 L343.00,183.87 L343.50,183.86 L344.00,183.86 L344.50,183.85 L345.00,183.85 L345.50,183.84 L346.00,183.84 L346.50,183.83 L347.00,183.82 L347.50,183.82 L348.00,183.81 L348.50,183.81 L349.00,183.80 L349.50,183.80 L350.00,183.79 L350.50,183.78 L351.00,183.78 L351.50,183.77 L352.00,183.77 L352.50,183.76 L353.00,183.75 L353.50,183.75 L354.00,183.74 L354.50,183.74 L355.00,183.73 L355.50,183.73 L356.00,183.72 L356.50,183.71 L357.00,183.71 L357.50,183.70 L358.00,183.70 L358.50,183.69 L359.00,183.69 L359.50,183.68 L360.00,183.67 L360.50,183.67 L361.00,183.66 L361.50,183.66 L362.00,183.65 L362.50,183.65 L363.00,183.64 L363.50,183.63 L364.00,183.63 L364.50,183.62 L365.00,183.62 L365.50,183.61 L366.00,183.61 L366.50,183.60 L367.00,183.59 L367.50,183.59 L368.00,183.58 L368.50,183.58 L369.00,183.57 L369.50,183.57 L370.00,183.56 L370.50,183.55 L371.00,183.55 L371.50,183.54 L372.00,183.54 L372.50,183.53 L373.00,183.52 L373.50,183.52 L374.00,183.51 L374.50,183.51 L375.00,183.50 L375.50,183.50 L376.00,183.49 L376.50,183.48 L377.00,183.48 L377.50,183.47 L378.00,183.47 L378.50,183.46 L379.00,183.46 L379.50,183.45 L380.00,183.44 L380.50,183.44 L381.00,183.43 L381.50,183.43 L382.00,183.42 L382.50,183.42 L383.00,183.41 L383.50,183.40 L384.00,183.40 L384.50,183.39 L385.00,183.39 L385.50,183.38 L386.00,183.38 L386.50,183.37 L387.00,183.36 L387.50,183.36 L388.00,183.35 L388.50,183.35 L389.00,183.34 L389.50,183.34 L390.00,183.33 L390.50,183.32 L391.00,183.32 L391.50,183.31 L392.00,183.31 L392.50,183.30 L393.00,183.29 L393.50,183.29 L394.00,183.28 L394.50,183.28 L395.00,183.27 L395.50,183.27 L396.00,183.26 L396.50,183.25 L397.00,183.25 L397.50,183.24 L398.00,183.24 L398.50,183.23 L399.00,183.22 L399.50,183.22 L400.00,183.21 L400.50,183.21 L401.00,183.20 L401.50,183.19 L402.00,183.19 L402.50,183.18 L403.00,183.17 L403.50,183.17 L404.00,183.16 L404.50,183.15 L405.00,183.15 L405.50,183.14 L406.00,183.13 L406.50,183.12 L407.00,183.11 L407.50,183.11 L408.00,183.10 L408.50,183.09 L409.00,183.08 L409.50,183.06 L410.00,183.05 L410.50,183.04 L411.00,183.02 L411.50,183.01 L412.00,182.99 L412.50,182.97 L413.00,182.95 L413.50,182.92 L414.00,182.90 L414.50,182.87 L415.00,182.84 L415.50,182.80 L416.00,182.76 L416.50,182.71 L417.00,182.67 L417.50,182.61 L418.00,182.55 L418.50,182.48 L419.00,182.40 L419.50,182.32 L420.00,182.23 L420.50,182.12 L421.00,182.01 L421.50,181.88 L422.00,181.74 L422.50,181.58 L423.00,181.41 L423.50,181.21 L424.00,181.00 L424.50,180.77 L425.00,180.52 L425.50,180.24 L426.00,179.93 L426.50,179.59 L427.00,179.23 L427.50,178.83 L428.00,178.39 L428.50,177.91 L429.00,177.40 L429.50,176.84 L430.00,176.23 L430.50,175.57 L431.00,174.87 L431.50,174.10 L432.00,173.28 L432.50,172.40 L433.00,171.46 L433.50,170.44 L434.00,169.36 L434.50,168.20 L435.00,166.97 L435.50,165.66 L436.00,164.28 L436.50,162.80 L437.00,161.25 L437.50,159.60 L438.00,157.87 L438.50,156.04 L439.00,154.13 L439.50,152.12 L440.00,150.02 L440.50,147.83 L441.00,145.54 L441.50,143.16 L442.00,140.69 L442.50,138.13 L443.00,135.48 L443.50,132.75 L444.00,129.94 L444.50,127.05 L445.00,124.08 L445.50,121.05 L446.00,117.95 L446.50,114.80 L447.00,111.59 L447.50,108.34 L448.00,105.06 L448.50,101.74 L449.00,98.41 L449.50,95.06 L450.00,91.72 L450.50,88.38 L451.00,85.05 L451.50,81.76 L452.00,78.50 L452.50,75.30 L453.00,72.15 L453.50,69.08 L454.00,66.09 L454.50,63.19 L455.00,60.39 L455.50,57.71 L456.00,55.15 L456.50,52.73 L457.00,50.45 L457.50,48.32 L458.00,46.36 L458.50,44.56 L459.00,42.94 L459.50,41.51 L460.00,40.26 L460.50,39.21 L461.00,38.36 L461.50,37.71 L462.00,37.27 L462.50,37.03 L463.00,37.01 L463.50,37.19 L464.00,37.58 L464.50,38.17 L465.00,38.97 L465.50,39.97 L466.00,41.17 L466.50,42.55 L467.00,44.13 L467.50,45.88 L468.00,47.80 L468.50,49.88 L469.00,52.12 L469.50,54.50 L470.00,57.02 L470.50,59.67 L471.00,62.43 L471.50,65.30 L472.00,68.26 L472.50,71.31 L473.00,74.43 L473.50,77.61 L474.00,80.85 L474.50,84.12 L475.00,87.43 L475.50,90.75 L476.00,94.09 L476.50,97.43 L477.00,100.75 L477.50,104.06 L478.00,107.34 L478.50,110.59 L479.00,113.79 L479.50,116.94 L480.00,120.04 L480.50,123.07 L481.00,126.04 L481.50,128.94 L482.00,131.75 L482.50,134.49 L483.00,137.14 L483.50,139.71 L484.00,142.19 L484.50,144.57 L485.00,146.87 L485.50,149.07 L486.00,151.17 L486.50,153.19 L487.00,155.11 L487.50,156.94 L488.00,158.68 L488.50,160.33 L489.00,161.90 L489.50,163.37 L490.00,164.77 L490.50,166.08 L491.00,167.32 L491.50,168.47 L492.00,169.56 L492.50,170.57 L493.00,171.52 L493.50,172.41 L494.00,173.23 L494.50,173.99 L495.00,174.70 L495.50,175.35 L496.00,175.96 L496.50,176.51 L497.00,177.03 L497.50,177.50 L498.00,177.93 L498.50,178.33 L499.00,178.69 L499.50,179.02 L500.00,179.32 L500.50,179.60 L501.00,179.84 L501.50,180.07 L502.00,180.27 L502.50,180.46 L503.00,180.62 L503.50,180.77 L504.00,180.90 L504.50,181.02 L505.00,181.13 L505.50,181.22 L506.00,181.31 L506.50,181.38 L507.00,181.45 L507.50,181.51 L508.00,181.56 L508.50,181.60 L509.00,181.64 L509.50,181.68 L510.00,181.71 L510.50,181.73 L511.00,181.75 L511.50,181.77 L512.00,181.79 L512.50,181.80 L513.00,181.81 L513.50,181.82 L514.00,181.82 L514.50,181.83 L515.00,181.83 L515.50,181.84 L516.00,181.84 L516.50,181.84 L517.00,181.84 L517.50,181.84 L518.00,181.83 L518.50,181.83" stroke="#19e619" stroke-width="1.9" fill="none"/>
<path d="M323.5,184.09L519,181.85" stroke="#1a1aff" stroke-width="1.9" fill="none"/>
<path d="M323.50,184.09 L324.00,184.08 L324.50,184.07 L325.00,184.06 L325.50,184.05 L326.00,184.05 L326.50,184.04 L327.00,184.03 L327.50,184.02 L328.00,184.01 L328.50,184.00 L329.00,183.98 L329.50,183.97 L330.00,183.96 L330.50,183.94 L331.00,183.93 L331.50,183.91 L332.00,183.89 L332.50,183.87 L333.00,183.85 L333.50,183.82 L334.00,183.80 L334.50,183.77 L335.00,183.73 L335.50,183.70 L336.00,183.66 L336.50,183.62 L337.00,183.57 L337.50,183.52 L338.00,183.47 L338.50,183.41 L339.00,183.34 L339.50,183.27 L340.00,183.19 L340.50,183.11 L341.00,183.02 L341.50,182.92 L342.00,182.81 L342.50,182.69 L343.00,182.57 L343.50,182.43 L344.00,182.28 L344.50,182.13 L345.00,181.96 L345.50,181.78 L346.00,181.59 L346.50,181.38 L347.00,181.16 L347.50,180.93 L348.00,180.68 L348.50,180.42 L349.00,180.15 L349.50,179.85 L350.00,179.55 L350.50,179.23 L351.00,178.89 L351.50,178.54 L352.00,178.17 L352.50,177.78 L353.00,177.39 L353.50,176.97 L354.00,176.55 L354.50,176.11 L355.00,175.65 L355.50,175.19 L356.00,174.71 L356.50,174.22 L357.00,173.73 L357.50,173.22 L358.00,172.71 L358.50,172.19 L359.00,171.67 L359.50,171.15 L360.00,170.63 L360.50,170.10 L361.00,169.58 L361.50,169.07 L362.00,168.56 L362.50,168.06 L363.00,167.57 L363.50,167.09 L364.00,166.63 L364.50,166.19 L365.00,165.76 L365.50,165.35 L366.00,164.96 L366.50,164.60 L367.00,164.26 L367.50,163.95 L368.00,163.66 L368.50,163.41 L369.00,163.19 L369.50,162.99 L370.00,162.84 L370.50,162.71 L371.00,162.62 L371.50,162.56 L372.00,162.54 L372.50,162.55 L373.00,162.60 L373.50,162.68 L374.00,162.80 L374.50,162.96 L375.00,163.15 L375.50,163.37 L376.00,163.63 L376.50,163.91 L377.00,164.23 L377.50,164.57 L378.00,164.94 L378.50,165.33 L379.00,165.74 L379.50,166.18 L380.00,166.63 L380.50,167.10 L381.00,167.58 L381.50,168.08 L382.00,168.58 L382.50,169.09 L383.00,169.61 L383.50,170.14 L384.00,170.66 L384.50,171.19 L385.00,171.71 L385.50,172.23 L386.00,172.74 L386.50,173.25 L387.00,173.75 L387.50,174.24 L388.00,174.72 L388.50,175.19 L389.00,175.64 L389.50,176.08 L390.00,176.51 L390.50,176.92 L391.00,177.32 L391.50,177.70 L392.00,178.07 L392.50,178.42 L393.00,178.75 L393.50,179.07 L394.00,179.37 L394.50,179.66 L395.00,179.93 L395.50,180.18 L396.00,180.42 L396.50,180.64 L397.00,180.85 L397.50,181.05 L398.00,181.23 L398.50,181.40 L399.00,181.56 L399.50,181.70 L400.00,181.83 L400.50,181.96 L401.00,182.07 L401.50,182.17 L402.00,182.27 L402.50,182.36 L403.00,182.43 L403.50,182.50 L404.00,182.57 L404.50,182.63 L405.00,182.68 L405.50,182.72 L406.00,182.77 L406.50,182.80 L407.00,182.84 L407.50,182.86 L408.00,182.89 L408.50,182.91 L409.00,182.93 L409.50,182.95 L410.00,182.96 L410.50,182.97 L411.00,182.98 L411.50,182.99 L412.00,183.00 L412.50,183.00 L413.00,183.00 L413.50,183.01 L414.00,183.01 L414.50,183.01 L415.00,183.01 L415.50,183.01 L416.00,183.01 L416.50,183.00 L417.00,183.00 L417.50,183.00 L418.00,182.99 L418.50,182.99 L419.00,182.99 L419.50,182.98 L420.00,182.98 L420.50,182.97 L421.00,182.97 L421.50,182.96 L422.00,182.96 L422.50,182.95 L423.00,182.95 L423.50,182.94 L424.00,182.94 L424.50,182.93 L425.00,182.93 L425.50,182.92 L426.00,182.91 L426.50,182.91 L427.00,182.90 L427.50,182.90 L428.00,182.89 L428.50,182.89 L429.00,182.88 L429.50,182.88 L430.00,182.87 L430.50,182.86 L431.00,182.86 L431.50,182.85 L432.00,182.85 L432.50,182.84 L433.00,182.83 L433.50,182.83 L434.00,182.82 L434.50,182.82 L435.00,182.81 L435.50,182.81 L436.00,182.80 L436.50,182.79 L437.00,182.79 L437.50,182.78 L438.00,182.78 L438.50,182.77 L439.00,182.77 L439.50,182.76 L440.00,182.75 L440.50,182.75 L441.00,182.74 L441.50,182.74 L442.00,182.73 L442.50,182.73 L443.00,182.72 L443.50,182.71 L444.00,182.71 L444.50,182.70 L445.00,182.70 L445.50,182.69 L446.00,182.69 L446.50,182.68 L447.00,182.67 L447.50,182.67 L448.00,182.66 L448.50,182.66 L449.00,182.65 L449.50,182.65 L450.00,182.64 L450.50,182.63 L451.00,182.63 L451.50,182.62 L452.00,182.62 L452.50,182.61 L453.00,182.60 L453.50,182.60 L454.00,182.59 L454.50,182.59 L455.00,182.58 L455.50,182.58 L456.00,182.57 L456.50,182.56 L457.00,182.56 L457.50,182.55 L458.00,182.55 L458.50,182.54 L459.00,182.54 L459.50,182.53 L460.00,182.52 L460.50,182.52 L461.00,182.51 L461.50,182.51 L462.00,182.50 L462.50,182.50 L463.00,182.49 L463.50,182.48 L464.00,182.48 L464.50,182.47 L465.00,182.47 L465.50,182.46 L466.00,182.46 L466.50,182.45 L467.00,182.44 L467.50,182.44 L468.00,182.43 L468.50,182.43 L469.00,182.42 L469.50,182.42 L470.00,182.41 L470.50,182.40 L471.00,182.40 L471.50,182.39 L472.00,182.39 L472.50,182.38 L473.00,182.38 L473.50,182.37 L474.00,182.36 L474.50,182.36 L475.00,182.35 L475.50,182.35 L476.00,182.34 L476.50,182.33 L477.00,182.33 L477.50,182.32 L478.00,182.32 L478.50,182.31 L479.00,182.31 L479.50,182.30 L480.00,182.29 L480.50,182.29 L481.00,182.28 L481.50,182.28 L482.00,182.27 L482.50,182.27 L483.00,182.26 L483.50,182.25 L484.00,182.25 L484.50,182.24 L485.00,182.24 L485.50,182.23 L486.00,182.23 L486.50,182.22 L487.00,182.21 L487.50,182.21 L488.00,182.20 L488.50,182.20 L489.00,182.19 L489.50,182.19 L490.00,182.18 L490.50,182.17 L491.00,182.17 L491.50,182.16 L492.00,182.16 L492.50,182.15 L493.00,182.14 L493.50,182.14 L494.00,182.13 L494.50,182.13 L495.00,182.12 L495.50,182.12 L496.00,182.11 L496.50,182.10 L497.00,182.10 L497.50,182.09 L498.00,182.09 L498.50,182.08 L499.00,182.08 L499.50,182.07 L500.00,182.06 L500.50,182.06 L501.00,182.05 L501.50,182.05 L502.00,182.04 L502.50,182.04 L503.00,182.03 L503.50,182.02 L504.00,182.02 L504.50,182.01 L505.00,182.01 L505.50,182.00 L506.00,182.00 L506.50,181.99 L507.00,181.98 L507.50,181.98 L508.00,181.97 L508.50,181.97 L509.00,181.96 L509.50,181.96 L510.00,181.95 L510.50,181.94 L511.00,181.94 L511.50,181.93 L512.00,181.93 L512.50,181.92 L513.00,181.91 L513.50,181.91 L514.00,181.90 L514.50,181.90 L515.00,181.89 L515.50,181.89 L516.00,181.88 L516.50,181.87 L517.00,181.87 L517.50,181.86 L518.00,181.86 L518.50,181.85" stroke="#1a1aff" stroke-width="1.9" fill="none"/>
<path d="M323.50,184.09 L324.00,184.09 L324.50,184.08 L325.00,184.08 L325.50,184.07 L326.00,184.07 L326.50,184.06 L327.00,184.05 L327.50,184.05 L328.00,184.04 L328.50,184.04 L329.00,184.03 L329.50,184.03 L330.00,184.02 L330.50,184.01 L331.00,184.01 L331.50,184.00 L332.00,184.00 L332.50,183.99 L333.00,183.98 L333.50,183.98 L334.00,183.97 L334.50,183.97 L335.00,183.96 L335.50,183.96 L336.00,183.95 L336.50,183.94 L337.00,183.94 L337.50,183.93 L338.00,183.93 L338.50,183.92 L339.00,183.92 L339.50,183.91 L340.00,183.90 L340.50,183.90 L341.00,183.89 L341.50,183.89 L342.00,183.88 L342.50,183.88 L343.00,183.87 L343.50,183.86 L344.00,183.86 L344.50,183.85 L345.00,183.85 L345.50,183.84 L346.00,183.84 L346.50,183.83 L347.00,183.82 L347.50,183.82 L348.00,183.81 L348.50,183.81 L349.00,183.80 L349.50,183.80 L350.00,183.79 L350.50,183.78 L351.00,183.78 L351.50,183.77 L352.00,183.77 L352.50,183.76 L353.00,183.75 L353.50,183.75 L354.00,183.74 L354.50,183.74 L355.00,183.73 L355.50,183.73 L356.00,183.72 L356.50,183.71 L357.00,183.71 L357.50,183.70 L358.00,183.70 L358.50,183.69 L359.00,183.69 L359.50,183.68 L360.00,183.67 L360.50,183.67 L361.00,183.66 L361.50,183.66 L362.00,183.65 L362.50,183.65 L363.00,183.64 L363.50,183.63 L364.00,183.63 L364.50,183.62 L365.00,183.62 L365.50,183.61 L366.00,183.61 L366.50,183.60 L367.00,183.59 L367.50,183.59 L368.00,183.58 L368.50,183.58 L369.00,183.57 L369.50,183.56 L370.00,183.56 L370.50,183.55 L371.00,183.55 L371.50,183.54 L372.00,183.54 L372.50,183.53 L373.00,183.52 L373.50,183.52 L374.00,183.51 L374.50,183.51 L375.00,183.50 L375.50,183.49 L376.00,183.49 L376.50,183.48 L377.00,183.48 L377.50,183.47 L378.00,183.46 L378.50,183.46 L379.00,183.45 L379.50,183.44 L380.00,183.43 L380.50,183.43 L381.00,183.42 L381.50,183.41 L382.00,183.40 L382.50,183.39 L383.00,183.39 L383.50,183.38 L384.00,183.37 L384.50,183.36 L385.00,183.34 L385.50,183.33 L386.00,183.32 L386.50,183.30 L387.00,183.29 L387.50,183.27 L388.00,183.26 L388.50,183.24 L389.00,183.22 L389.50,183.19 L390.00,183.17 L390.50,183.14 L391.00,183.11 L391.50,183.08 L392.00,183.04 L392.50,183.01 L393.00,182.96 L393.50,182.92 L394.00,182.87 L394.50,182.81 L395.00,182.75 L395.50,182.69 L396.00,182.62 L396.50,182.54 L397.00,182.46 L397.50,182.37 L398.00,182.27 L398.50,182.17 L399.00,182.05 L399.50,181.93 L400.00,181.80 L400.50,181.65 L401.00,181.50 L401.50,181.33 L402.00,181.16 L402.50,180.97 L403.00,180.77 L403.50,180.56 L404.00,180.33 L404.50,180.09 L405.00,179.83 L405.50,179.57 L406.00,179.28 L406.50,178.98 L407.00,178.67 L407.50,178.34 L408.00,177.99 L408.50,177.63 L409.00,177.25 L409.50,176.86 L410.00,176.46 L410.50,176.04 L411.00,175.60 L411.50,175.15 L412.00,174.69 L412.50,174.22 L413.00,173.73 L413.50,173.24 L414.00,172.73 L414.50,172.22 L415.00,171.70 L415.50,171.17 L416.00,170.64 L416.50,170.10 L417.00,169.57 L417.50,169.03 L418.00,168.50 L418.50,167.97 L419.00,167.45 L419.50,166.93 L420.00,166.43 L420.50,165.93 L421.00,165.45 L421.50,164.98 L422.00,164.53 L422.50,164.10 L423.00,163.69 L423.50,163.30 L424.00,162.94 L424.50,162.60 L425.00,162.29 L425.50,162.00 L426.00,161.75 L426.50,161.52 L427.00,161.33 L427.50,161.17 L428.00,161.05 L428.50,160.96 L429.00,160.90 L429.50,160.88 L430.00,160.88 L430.50,160.92 L431.00,160.99 L431.50,161.09 L432.00,161.22 L432.50,161.38 L433.00,161.56 L433.50,161.77 L434.00,162.01 L434.50,162.28 L435.00,162.56 L435.50,162.88 L436.00,163.21 L436.50,163.56 L437.00,163.94 L437.50,164.33 L438.00,164.73 L438.50,165.16 L439.00,165.59 L439.50,166.04 L440.00,166.50 L440.50,166.96 L441.00,167.44 L441.50,167.92 L442.00,168.40 L442.50,168.89 L443.00,169.38 L443.50,169.86 L444.00,170.35 L444.50,170.84 L445.00,171.32 L445.50,171.79 L446.00,172.26 L446.50,172.72 L447.00,173.18 L447.50,173.62 L448.00,174.06 L448.50,174.49 L449.00,174.90 L449.50,175.30 L450.00,175.69 L450.50,176.07 L451.00,176.44 L451.50,176.79 L452.00,177.13 L452.50,177.46 L453.00,177.77 L453.50,178.07 L454.00,178.35 L454.50,178.63 L455.00,178.89 L455.50,179.13 L456.00,179.37 L456.50,179.59 L457.00,179.80 L457.50,179.99 L458.00,180.18 L458.50,180.35 L459.00,180.52 L459.50,180.67 L460.00,180.81 L460.50,180.94 L461.00,181.07 L461.50,181.18 L462.00,181.29 L462.50,181.39 L463.00,181.48 L463.50,181.56 L464.00,181.64 L464.50,181.71 L465.00,181.77 L465.50,181.83 L466.00,181.89 L466.50,181.94 L467.00,181.98 L467.50,182.02 L468.00,182.06 L468.50,182.09 L469.00,182.12 L469.50,182.14 L470.00,182.17 L470.50,182.19 L471.00,182.20 L471.50,182.22 L472.00,182.23 L472.50,182.24 L473.00,182.25 L473.50,182.26 L474.00,182.27 L474.50,182.27 L475.00,182.28 L475.50,182.28 L476.00,182.28 L476.50,182.28 L477.00,182.28 L477.50,182.28 L478.00,182.28 L478.50,182.28 L479.00,182.28 L479.50,182.28 L480.00,182.27 L480.50,182.27 L481.00,182.27 L481.50,182.26 L482.00,182.26 L482.50,182.26 L483.00,182.25 L483.50,182.25 L484.00,182.24 L484.50,182.24 L485.00,182.23 L485.50,182.23 L486.00,182.22 L486.50,182.22 L487.00,182.21 L487.50,182.21 L488.00,182.20 L488.50,182.20 L489.00,182.19 L489.50,182.18 L490.00,182.18 L490.50,182.17 L491.00,182.17 L491.50,182.16 L492.00,182.16 L492.50,182.15 L493.00,182.14 L493.50,182.14 L494.00,182.13 L494.50,182.13 L495.00,182.12 L495.50,182.12 L496.00,182.11 L496.50,182.10 L497.00,182.10 L497.50,182.09 L498.00,182.09 L498.50,182.08 L499.00,182.08 L499.50,182.07 L500.00,182.06 L500.50,182.06 L501.00,182.05 L501.50,182.05 L502.00,182.04 L502.50,182.04 L503.00,182.03 L503.50,182.02 L504.00,182.02 L504.50,182.01 L505.00,182.01 L505.50,182.00 L506.00,182.00 L506.50,181.99 L507.00,181.98 L507.50,181.98 L508.00,181.97 L508.50,181.97 L509.00,181.96 L509.50,181.96 L510.00,181.95 L510.50,181.94 L511.00,181.94 L511.50,181.93 L512.00,181.93 L512.50,181.92 L513.00,181.91 L513.50,181.91 L514.00,181.90 L514.50,181.90 L515.00,181.89 L515.50,181.89 L516.00,181.88 L516.50,181.87 L517.00,181.87 L517.50,181.86 L518.00,181.86 L518.50,181.85" stroke="#1a1aff" stroke-width="1.9" fill="none"/>
<text x="367.0" y="40.4" font-family="Liberation Sans, sans-serif" font-weight="bold" font-size="9.6" fill="#22e03a" textLength="30.6" lengthAdjust="spacingAndGlyphs">Pt<tspan dy="-3.4" font-size="5.4">2+</tspan><tspan dy="3.4">4f</tspan><tspan dy="2.4" font-size="6.6">5/2</tspan></text>
<text x="474.7" y="39.4" font-family="Liberation Sans, sans-serif" font-weight="bold" font-size="9.6" fill="#22e03a" textLength="30.6" lengthAdjust="spacingAndGlyphs">Pt<tspan dy="-3.4" font-size="5.4">2+</tspan><tspan dy="3.4">4f</tspan><tspan dy="2.4" font-size="6.6">7/2</tspan></text>
<text x="339.5" y="133.6" font-family="Liberation Sans, sans-serif" font-weight="normal" font-size="9.6" fill="#2a2ae6" textLength="31.0" lengthAdjust="spacingAndGlyphs">Pt<tspan dy="-3.4" font-size="5.4">4+</tspan><tspan dy="3.4">4f</tspan><tspan dy="2.4" font-size="6.6">5/2</tspan></text>
<text x="397.7" y="135.4" font-family="Liberation Sans, sans-serif" font-weight="normal" font-size="9.6" fill="#2a2ae6" textLength="31.8" lengthAdjust="spacingAndGlyphs">Pt<tspan dy="-3.4" font-size="5.4">4+</tspan><tspan dy="3.4">4f</tspan><tspan dy="2.4" font-size="6.6">7/2</tspan></text>
<rect x="53.0" y="255.1" width="213.60000000000002" height="170.70000000000002" fill="none" stroke="#a4a4a4" stroke-width="1.9"/>
<path d="M52.70,425.8v2.2 M67.98,425.8v1.4 M83.26,425.8v2.2 M98.54,425.8v1.4 M113.82,425.8v2.2 M129.10,425.8v1.4 M144.38,425.8v2.2 M159.66,425.8v1.4 M174.94,425.8v2.2 M190.22,425.8v1.4 M205.50,425.8v2.2 M220.78,425.8v1.4 M236.06,425.8v2.2 M251.34,425.8v1.4 M266.62,425.8v2.2" stroke="#555" stroke-width="1" fill="none"/>
<text x="52.70" y="438.4" text-anchor="middle" font-family="Liberation Serif, serif" font-weight="bold" font-size="8.9" fill="#1a1a1a">71</text>
<text x="83.26" y="438.4" text-anchor="middle" font-family="Liberation Serif, serif" font-weight="bold" font-size="8.9" fill="#1a1a1a">72</text>
<text x="113.82" y="438.4" text-anchor="middle" font-family="Liberation Serif, serif" font-weight="bold" font-size="8.9" fill="#1a1a1a">73</text>
<text x="144.38" y="438.4" text-anchor="middle" font-family="Liberation Serif, serif" font-weight="bold" font-size="8.9" fill="#1a1a1a">74</text>
<text x="174.94" y="438.4" text-anchor="middle" font-family="Liberation Serif, serif" font-weight="bold" font-size="8.9" fill="#1a1a1a">75</text>
<text x="205.50" y="438.4" text-anchor="middle" font-family="Liberation Serif, serif" font-weight="bold" font-size="8.9" fill="#1a1a1a">76</text>
<text x="236.06" y="438.4" text-anchor="middle" font-family="Liberation Serif, serif" font-weight="bold" font-size="8.9" fill="#1a1a1a">77</text>
<text x="266.62" y="438.4" text-anchor="middle" font-family="Liberation Serif, serif" font-weight="bold" font-size="8.9" fill="#1a1a1a">78</text>
<text x="108.3" y="451.8" font-family="Liberation Serif, serif" font-weight="bold" font-size="13" textLength="101.3" lengthAdjust="spacingAndGlyphs" fill="#111">Binding energy/eV</text>
<text transform="translate(39.4,371.3) rotate(-90)" x="0" y="0" font-family="Liberation Serif, serif" font-weight="bold" font-size="12.6" textLength="71.7" lengthAdjust="spacingAndGlyphs" fill="#111">Intensity/a.u.</text>
<text transform="translate(5.4,277.4) scale(0.737,1)" font-family="Liberation Sans, sans-serif" font-weight="bold" font-size="24.1" fill="#000" stroke="#000" stroke-width="0.7">c</text><text transform="translate(17.1,276.6) scale(0.85,1)" font-family="Liberation Sans, sans-serif" font-weight="bold" font-size="24.3" fill="#000" stroke="#000" stroke-width="0.9">)</text>
<text x="226.5" y="276.2" font-family="Liberation Serif, serif" font-weight="bold" font-size="8.6" textLength="19.9" lengthAdjust="spacingAndGlyphs" fill="#111">Pt 4f</text>
<path d="M52.70,389.77 L53.54,389.27 L54.69,388.42 L56.06,387.57 L57.54,386.63 L59.02,385.40 L60.40,384.35 L61.69,383.90 L62.99,383.09 L64.29,382.33 L65.59,381.97 L66.89,381.17 L68.20,380.50 L69.51,379.51 L70.83,378.59 L72.15,377.37 L73.47,376.44 L74.79,375.57 L76.10,374.43 L77.41,373.44 L78.71,372.40 L80.01,371.04 L81.30,370.06 L82.60,368.82 L83.90,367.25 L85.20,365.42 L86.50,363.94 L87.80,362.03 L89.10,360.16 L90.40,358.29 L91.70,356.26 L93.02,354.25 L94.35,351.82 L95.68,349.61 L97.00,347.23 L98.28,345.25 L99.50,343.36 L100.66,341.21 L101.76,339.28 L102.83,337.59 L103.87,336.43 L104.93,335.04 L106.00,333.98 L107.10,332.95 L108.23,332.29 L109.35,331.73 L110.46,331.28 L111.55,331.06 L112.60,330.82 L113.60,330.76 L114.56,330.58 L115.49,330.59 L116.41,330.61 L117.34,330.78 L118.30,330.87 L119.28,330.87 L120.26,331.46 L121.25,332.14 L122.25,332.82 L123.27,333.40 L124.30,334.18 L125.34,334.85 L126.38,336.09 L127.44,337.23 L128.52,338.25 L129.64,339.17 L130.80,340.44 L132.02,341.53 L133.30,341.98 L134.61,342.87 L135.94,343.46 L137.28,343.95 L138.60,344.60 L139.91,345.56 L141.23,346.53 L142.55,347.00 L143.87,347.84 L145.19,348.25 L146.50,348.97 L147.81,349.27 L149.12,349.76 L150.43,350.12 L151.73,350.10 L153.02,350.33 L154.30,350.12 L155.57,349.90 L156.84,350.03 L158.11,349.79 L159.36,349.63 L160.59,349.47 L161.80,349.22 L162.96,348.50 L164.06,347.63 L165.15,347.10 L166.26,346.05 L167.43,345.28 L168.70,344.30 L170.09,342.90 L171.57,341.49 L173.11,340.05 L174.68,338.63 L176.25,337.15 L177.80,335.69 L179.33,334.30 L180.87,333.06 L182.41,331.53 L183.94,329.99 L185.48,328.62 L187.00,326.96 L188.52,325.34 L190.05,324.03 L191.57,322.36 L193.08,320.76 L194.56,318.98 L196.00,317.64 L197.42,316.47 L198.82,315.01 L200.20,314.01 L201.53,313.09 L202.81,312.02 L204.00,311.53 L205.08,311.15 L206.06,311.08 L206.97,310.98 L207.87,311.24 L208.80,311.56 L209.80,311.56 L210.85,311.77 L211.91,312.44 L212.99,313.28 L214.13,313.77 L215.32,314.55 L216.60,315.53 L217.98,316.52 L219.46,317.74 L221.00,319.08 L222.57,320.52 L224.15,322.07 L225.70,323.37 L227.26,324.71 L228.85,326.26 L230.44,327.37 L232.01,328.83 L233.50,330.30 L234.90,331.44 L236.15,332.52 L237.26,333.88 L238.31,334.84 L239.35,335.82 L240.46,336.98 L241.70,338.30 L243.08,339.30 L244.56,340.51 L246.10,341.75 L247.67,343.25 L249.25,344.45 L250.80,345.87 L252.36,346.92 L253.97,348.19 L255.57,349.64 L257.14,351.11 L258.63,352.22 L260.00,353.12 L261.29,353.94 L262.55,354.96 L263.73,355.69 L264.77,356.66 L265.65,357.42 L266.30,357.65" stroke="#1f1fff" stroke-width="2.4" fill="none" stroke-linejoin="round"/>
<path d="M52.70,409.07 L53.55,408.98 L54.74,408.79 L56.14,408.60 L57.63,408.18 L59.09,407.85 L60.40,406.92 L61.55,406.36 L62.64,406.02 L63.69,405.35 L64.75,404.85 L65.84,403.91 L67.00,403.48 L68.28,403.11 L69.66,403.12 L71.07,403.20 L72.44,402.92 L73.71,402.83 L74.80,402.66 L75.63,402.82 L76.24,402.77 L76.75,402.23 L77.26,402.05 L77.87,401.17 L78.70,400.38 L79.77,398.89 L81.01,397.08 L82.36,395.65 L83.76,393.56 L85.15,391.54 L86.50,390.12 L87.80,388.57 L89.10,386.62 L90.40,385.17 L91.70,383.34 L93.00,381.58 L94.30,379.46 L95.63,377.73 L97.01,375.56 L98.38,373.51 L99.71,371.42 L100.97,369.13 L102.10,367.32 L103.08,365.80 L103.92,364.60 L104.69,363.59 L105.42,362.92 L106.18,362.47 L107.00,361.60 L107.88,361.23 L108.78,360.62 L109.70,360.08 L110.64,359.95 L111.61,359.61 L112.60,359.30 L113.63,359.29 L114.70,359.54 L115.79,359.44 L116.90,360.08 L118.01,360.02 L119.10,360.53 L120.18,360.99 L121.27,360.88 L122.35,361.41 L123.43,361.64 L124.52,362.12 L125.60,362.32 L126.68,362.78 L127.77,363.46 L128.85,364.69 L129.93,365.34 L131.02,366.44 L132.10,367.58 L133.17,368.76 L134.21,369.67 L135.26,370.74 L136.33,371.90 L137.44,373.02 L138.60,373.37 L139.84,373.91 L141.13,374.15 L142.47,374.18 L143.82,373.54 L145.17,373.54 L146.50,372.89 L147.78,372.50 L149.03,372.21 L150.28,371.98 L151.56,371.24 L152.89,370.85 L154.30,370.10 L155.85,369.15 L157.53,368.20 L159.26,367.15 L160.97,366.07 L162.61,365.08 L164.10,364.44 L165.42,363.85 L166.62,362.56 L167.74,361.31 L168.81,360.74 L169.89,359.80 L171.00,358.89 L172.11,358.08 L173.19,357.68 L174.26,357.45 L175.36,356.88 L176.53,356.24 L177.80,355.23 L179.20,354.67 L180.70,353.31 L182.26,352.27 L183.86,351.31 L185.45,349.77 L187.00,348.65 L188.50,347.47 L189.99,345.85 L191.48,344.28 L192.96,342.29 L194.47,340.76 L196.00,339.25 L197.58,338.37 L199.19,337.08 L200.82,336.06 L202.44,335.51 L204.05,334.96 L205.60,334.70 L207.10,334.37 L208.55,334.41 L209.98,334.85 L211.40,335.27 L212.84,335.74 L214.30,336.41 L215.79,337.06 L217.30,338.08 L218.82,339.57 L220.34,340.95 L221.87,342.05 L223.40,343.08 L224.93,343.99 L226.46,344.80 L228.00,345.83 L229.54,347.24 L231.07,348.67 L232.60,349.85 L234.12,351.52 L235.64,353.28 L237.16,355.05 L238.67,356.83 L240.18,358.64 L241.70,360.11 L243.22,361.81 L244.73,363.22 L246.24,364.81 L247.76,366.50 L249.28,367.99 L250.80,369.10 L252.36,370.59 L253.97,371.73 L255.57,372.74 L257.14,373.31 L258.63,374.21 L260.00,374.70 L261.29,375.27 L262.55,375.42 L263.73,375.63 L264.77,375.59 L265.65,375.61 L266.30,375.38" stroke="#c0450f" stroke-width="2.4" fill="none" stroke-linejoin="round"/>
<path d="M148.7,393.5H170.5" stroke="#1f1fff" stroke-width="2.1"/><path d="M148.7,408.8H170.5" stroke="#c0450f" stroke-width="2.1"/>
<text x="171.6" y="396.8" font-family="Liberation Serif, serif" font-weight="bold" font-size="9" fill="#111">PtAu/{101}-TiO<tspan dy="1.9" font-size="6.2">2</tspan></text>
<text x="171.6" y="411.7" font-family="Liberation Serif, serif" font-weight="bold" font-size="9" fill="#111">PtAu/{001}-TiO<tspan dy="1.9" font-size="6.2">2</tspan></text>
<rect x="323.0" y="258.4" width="209.39999999999998" height="170.3" fill="none" stroke="#a4a4a4" stroke-width="1.9"/>
<path d="M322.90,428.7v2.2 M335.98,428.7v1.4 M349.07,428.7v2.2 M362.15,428.7v1.4 M375.24,428.7v2.2 M388.32,428.7v1.4 M401.41,428.7v2.2 M414.50,428.7v1.4 M427.58,428.7v2.2 M440.66,428.7v1.4 M453.75,428.7v2.2 M466.83,428.7v1.4 M479.92,428.7v2.2 M493.00,428.7v1.4 M506.09,428.7v2.2 M519.17,428.7v1.4 M532.26,428.7v2.2" stroke="#555" stroke-width="1" fill="none"/>
<text x="322.90" y="441.2" text-anchor="middle" font-family="Liberation Serif, serif" font-weight="bold" font-size="8.9" fill="#1a1a1a">81</text>
<text x="349.07" y="441.2" text-anchor="middle" font-family="Liberation Serif, serif" font-weight="bold" font-size="8.9" fill="#1a1a1a">82</text>
<text x="375.24" y="441.2" text-anchor="middle" font-family="Liberation Serif, serif" font-weight="bold" font-size="8.9" fill="#1a1a1a">83</text>
<text x="401.41" y="441.2" text-anchor="middle" font-family="Liberation Serif, serif" font-weight="bold" font-size="8.9" fill="#1a1a1a">84</text>
<text x="427.58" y="441.2" text-anchor="middle" font-family="Liberation Serif, serif" font-weight="bold" font-size="8.9" fill="#1a1a1a">85</text>
<text x="453.75" y="441.2" text-anchor="middle" font-family="Liberation Serif, serif" font-weight="bold" font-size="8.9" fill="#1a1a1a">86</text>
<text x="479.92" y="441.2" text-anchor="middle" font-family="Liberation Serif, serif" font-weight="bold" font-size="8.9" fill="#1a1a1a">87</text>
<text x="506.09" y="441.2" text-anchor="middle" font-family="Liberation Serif, serif" font-weight="bold" font-size="8.9" fill="#1a1a1a">88</text>
<text x="532.26" y="441.2" text-anchor="middle" font-family="Liberation Serif, serif" font-weight="bold" font-size="8.9" fill="#1a1a1a">89</text>
<text x="378.3" y="452.6" font-family="Liberation Serif, serif" font-weight="bold" font-size="13" textLength="100" lengthAdjust="spacingAndGlyphs" fill="#111">Binding energy/eV</text>
<text transform="translate(309.9,374.8) rotate(-90)" x="0" y="0" font-family="Liberation Serif, serif" font-weight="bold" font-size="12.6" textLength="72" lengthAdjust="spacingAndGlyphs" fill="#111">Intensity/a.u.</text>
<text transform="translate(295.2,277.1) scale(0.957,1)" font-family="Liberation Sans, sans-serif" font-weight="bold" font-size="23.8" fill="#000" stroke="#000" stroke-width="0.7">d</text><text transform="translate(310.5,276.6) scale(0.87,1)" font-family="Liberation Sans, sans-serif" font-weight="bold" font-size="24.3" fill="#000" stroke="#000" stroke-width="0.9">)</text>
<text x="493.7" y="277.6" font-family="Liberation Serif, serif" font-weight="bold" font-size="8.6" textLength="22.9" lengthAdjust="spacingAndGlyphs" fill="#111">Au 4f</text>
<text x="366.5" y="300.2" font-family="Liberation Serif, serif" font-weight="bold" font-size="9.6" textLength="28" lengthAdjust="spacingAndGlyphs" fill="#111">0.2 eV</text>
<path d="M391.6,308.5H370" stroke="#111" stroke-width="1.8"/><path d="M367,308.5l5.4,-3.2v6.4z" fill="#111"/>
<path d="M375.3,315.2V338M381.1,315.2V338" stroke="#111" stroke-width="2.2" stroke-dasharray="2.1,1.8" fill="none"/>
<path d="M322.60,405.91 L323.54,405.79 L324.85,405.99 L326.39,405.84 L328.03,405.98 L329.61,405.94 L331.00,405.69 L332.19,405.66 L333.31,405.28 L334.37,405.13 L335.40,404.72 L336.44,404.37 L337.50,404.21 L338.56,404.22 L339.59,403.78 L340.61,403.45 L341.67,403.33 L342.79,403.25 L344.00,402.84 L345.36,402.28 L346.86,402.00 L348.41,401.12 L349.96,400.76 L351.41,400.03 L352.70,399.31 L353.82,398.71 L354.81,398.33 L355.73,398.18 L356.57,397.54 L357.39,397.01 L358.20,396.23 L359.00,395.07 L359.76,393.86 L360.49,392.24 L361.19,390.57 L361.86,388.91 L362.50,387.38 L363.10,385.50 L363.65,383.43 L364.17,381.39 L364.69,379.13 L365.23,376.70 L365.80,374.47 L366.43,372.01 L367.10,369.20 L367.78,366.53 L368.46,363.72 L369.11,360.99 L369.70,358.03 L370.25,354.60 L370.76,351.32 L371.25,347.42 L371.70,343.89 L372.12,340.83 L372.50,337.88 L372.82,335.67 L373.09,333.56 L373.32,332.14 L373.54,330.91 L373.76,329.69 L374.00,328.74 L374.26,327.58 L374.52,326.86 L374.79,326.24 L375.06,325.77 L375.33,325.40 L375.60,325.40 L375.87,325.56 L376.14,325.62 L376.41,325.98 L376.69,326.17 L376.99,326.90 L377.30,327.60 L377.61,328.37 L377.92,328.90 L378.24,329.23 L378.59,329.98 L379.01,331.36 L379.50,333.01 L380.10,335.81 L380.80,339.17 L381.56,342.99 L382.33,346.99 L383.09,351.28 L383.80,354.74 L384.46,358.05 L385.09,361.41 L385.71,364.88 L386.32,367.66 L386.91,370.46 L387.50,372.95 L388.06,375.15 L388.59,376.87 L389.11,378.30 L389.63,379.27 L390.19,380.36 L390.80,381.54 L391.47,383.10 L392.19,384.61 L392.94,385.62 L393.70,386.69 L394.46,387.73 L395.20,388.63 L395.89,389.47 L396.53,390.14 L397.17,390.47 L397.85,390.66 L398.61,391.12 L399.50,391.59 L400.54,392.21 L401.71,392.99 L402.96,393.53 L404.26,393.96 L405.55,394.43 L406.80,394.87 L408.03,394.89 L409.29,395.38 L410.54,395.67 L411.77,395.97 L412.96,396.23 L414.10,396.35 L415.17,396.65 L416.18,396.91 L417.15,397.56 L418.10,397.87 L419.04,398.23 L420.00,398.64 L420.96,398.97 L421.91,399.40 L422.86,399.61 L423.80,399.77 L424.75,399.97 L425.70,400.02 L426.63,400.07 L427.51,399.79 L428.41,399.89 L429.34,399.66 L430.36,399.15 L431.50,398.77 L432.81,398.44 L434.27,398.05 L435.81,397.51 L437.37,397.41 L438.89,397.34 L440.30,397.03 L441.62,396.96 L442.92,396.86 L444.18,396.95 L445.37,397.21 L446.48,397.34 L447.50,397.60 L448.38,397.31 L449.12,396.99 L449.79,397.12 L450.43,396.77 L451.12,396.06 L451.90,395.43 L452.80,394.27 L453.78,393.25 L454.80,392.25 L455.82,390.93 L456.80,389.38 L457.70,387.54 L458.53,385.74 L459.33,383.76 L460.08,382.03 L460.80,380.02 L461.47,378.07 L462.10,375.81 L462.67,373.48 L463.17,371.39 L463.63,369.25 L464.07,366.95 L464.52,364.62 L465.00,362.38 L465.51,360.09 L466.05,357.53 L466.59,355.25 L467.12,352.99 L467.63,350.78 L468.10,348.91 L468.53,347.46 L468.94,346.19 L469.33,345.29 L469.69,344.59 L470.05,343.64 L470.40,343.06 L470.74,342.54 L471.06,342.08 L471.37,341.41 L471.67,340.88 L471.98,340.55 L472.30,340.36 L472.62,340.32 L472.95,340.62 L473.28,341.10 L473.61,341.54 L473.95,341.84 L474.30,342.36 L474.64,342.89 L474.97,342.97 L475.31,343.54 L475.68,344.45 L476.10,345.61 L476.60,347.29 L477.17,349.54 L477.80,352.30 L478.49,355.86 L479.22,359.31 L479.99,363.02 L480.80,366.52 L481.66,369.58 L482.59,372.85 L483.56,376.41 L484.55,379.60 L485.54,382.19 L486.50,384.41 L487.37,386.18 L488.16,387.96 L488.95,389.24 L489.81,389.92 L490.84,390.92 L492.10,391.91 L493.67,392.58 L495.50,392.93 L497.48,393.34 L499.53,393.49 L501.53,393.70 L503.40,394.54 L505.16,395.23 L506.91,395.94 L508.62,396.88 L510.27,397.43 L511.83,398.09 L513.30,398.42 L514.58,398.06 L515.69,397.52 L516.71,396.89 L517.76,396.25 L518.92,395.95 L520.30,395.72 L522.07,395.96 L524.17,396.29 L526.39,397.20 L528.51,397.74 L530.32,398.29 L531.60,398.71" stroke="#23951f" stroke-width="2.4" fill="none" stroke-linejoin="round"/>
<path d="M322.60,408.78 L323.51,408.72 L324.77,408.54 L326.26,408.79 L327.87,408.52 L329.49,408.62 L331.00,408.92 L332.47,408.79 L334.01,409.07 L335.55,409.37 L337.04,409.33 L338.41,409.49 L339.60,409.69 L340.55,409.60 L341.30,409.62 L341.93,409.23 L342.53,408.89 L343.19,408.39 L344.00,408.01 L344.96,407.59 L346.01,406.68 L347.11,405.76 L348.25,404.57 L349.39,403.69 L350.50,402.60 L351.61,401.89 L352.74,401.54 L353.87,401.21 L354.99,400.68 L356.07,399.95 L357.10,399.27 L358.08,398.50 L359.02,397.76 L359.93,397.22 L360.81,396.17 L361.67,395.36 L362.50,394.25 L363.32,392.43 L364.11,390.71 L364.89,388.90 L365.63,386.74 L366.34,384.81 L367.00,383.08 L367.60,380.83 L368.14,378.85 L368.65,376.54 L369.14,374.47 L369.65,372.45 L370.20,369.94 L370.78,367.42 L371.36,365.05 L371.96,362.89 L372.57,360.27 L373.22,357.54 L373.90,354.74 L374.67,351.53 L375.52,347.38 L376.41,343.03 L377.26,338.95 L378.01,335.06 L378.60,332.33 L379.00,330.30 L379.26,329.24 L379.41,328.78 L379.52,328.05 L379.63,327.76 L379.80,327.33 L380.01,326.51 L380.21,325.86 L380.42,325.67 L380.63,325.45 L380.86,324.87 L381.10,324.90 L381.35,325.21 L381.60,325.25 L381.87,325.72 L382.15,326.05 L382.46,326.77 L382.80,327.78 L383.17,328.72 L383.55,329.74 L383.96,330.50 L384.40,331.77 L384.88,333.69 L385.40,335.90 L386.00,338.74 L386.67,342.22 L387.38,346.40 L388.10,350.42 L388.78,354.07 L389.40,357.87 L389.93,361.08 L390.40,364.32 L390.83,367.36 L391.27,370.39 L391.75,373.13 L392.30,375.49 L392.93,377.90 L393.63,379.72 L394.36,381.73 L395.11,383.07 L395.86,384.72 L396.60,386.15 L397.31,387.20 L398.01,388.19 L398.71,388.76 L399.43,389.52 L400.18,389.97 L401.00,390.28 L401.87,390.86 L402.77,390.87 L403.72,390.81 L404.70,391.00 L405.73,390.93 L406.80,391.20 L407.93,391.39 L409.12,392.15 L410.36,392.58 L411.61,392.96 L412.87,393.78 L414.10,393.89 L415.32,394.25 L416.54,394.37 L417.76,394.14 L418.97,393.58 L420.19,393.19 L421.40,392.99 L422.57,392.93 L423.70,392.94 L424.82,393.06 L425.98,392.78 L427.23,392.45 L428.60,392.44 L430.18,392.16 L431.94,391.91 L433.79,391.96 L435.61,392.04 L437.32,391.81 L438.80,391.94 L440.04,392.30 L441.11,392.71 L442.06,392.95 L442.93,393.52 L443.77,393.64 L444.60,394.08 L445.41,394.50 L446.17,394.97 L446.89,395.18 L447.59,395.20 L448.28,395.19 L449.00,395.35 L449.72,395.13 L450.41,395.09 L451.11,394.60 L451.83,394.42 L452.59,393.77 L453.40,392.97 L454.29,392.21 L455.26,391.51 L456.26,390.70 L457.27,389.66 L458.26,388.44 L459.20,387.35 L460.12,386.38 L461.03,385.02 L461.93,383.80 L462.79,381.95 L463.59,380.62 L464.30,379.02 L464.89,377.12 L465.35,375.20 L465.75,373.20 L466.15,371.27 L466.61,368.66 L467.20,366.24 L467.96,363.26 L468.86,359.67 L469.82,356.16 L470.77,352.70 L471.62,349.31 L472.30,347.04 L472.78,345.38 L473.11,344.34 L473.35,343.79 L473.54,343.16 L473.74,342.96 L474.00,342.50 L474.30,342.21 L474.61,341.55 L474.92,341.33 L475.24,341.07 L475.57,340.85 L475.90,340.89 L476.23,340.59 L476.56,340.81 L476.89,341.12 L477.24,341.57 L477.61,341.98 L478.00,342.40 L478.39,342.99 L478.77,343.79 L479.18,344.44 L479.63,345.36 L480.16,346.92 L480.80,349.11 L481.57,352.14 L482.44,355.63 L483.39,360.01 L484.40,364.20 L485.44,368.44 L486.50,371.70 L487.56,375.12 L488.63,378.07 L489.74,381.02 L490.90,383.66 L492.15,385.89 L493.50,387.46 L494.97,388.90 L496.53,389.94 L498.18,391.03 L499.89,391.57 L501.64,392.12 L503.40,392.68 L505.14,393.28 L506.86,394.23 L508.61,394.98 L510.47,395.26 L512.48,395.73 L514.70,395.98 L517.39,396.22 L520.54,396.32 L523.86,396.53 L527.01,396.47 L529.70,396.45 L531.60,396.60" stroke="#d2521a" stroke-width="2.4" fill="none" stroke-linejoin="round"/>
<path d="M421.6,305.6H442" stroke="#23951f" stroke-width="2.1"/><path d="M421.6,318.7H442" stroke="#d2521a" stroke-width="2.1"/>
<text x="444.5" y="308.7" font-family="Liberation Serif, serif" font-weight="bold" font-size="8.9" fill="#111">PtAu/{101}-TiO<tspan dy="1.9" font-size="6.2">2</tspan></text>
<text x="444.5" y="321.5" font-family="Liberation Serif, serif" font-weight="bold" font-size="8.9" fill="#111">PtAu/{001}-TiO<tspan dy="1.9" font-size="6.2">2</tspan></text>
</svg></body></html>
